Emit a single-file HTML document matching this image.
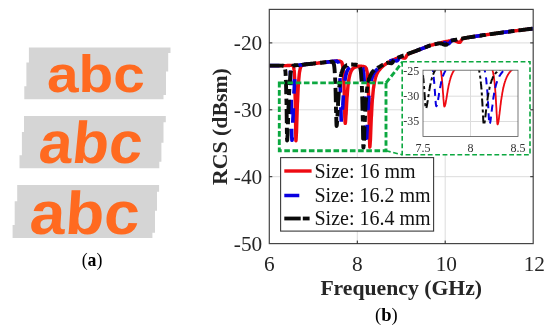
<!DOCTYPE html>
<html lang="en">
<head>
<meta charset="utf-8">
<title>Figure</title>
<style>
html,body{margin:0;padding:0;background:#fff;}
body{width:550px;height:333px;overflow:hidden;}
svg{display:block;}
</style>
</head>
<body>
<svg width="550" height="333" viewBox="0 0 550 333">
<rect width="550" height="333" fill="#ffffff"/>
<g id="panel-a">
<polygon points="28.9,47.4 170.5,47.4 170.5,53.0 168.2,53.0 168.2,71.5 166.0,71.5 166.0,95.0 163.5,95.0 163.5,99.3 24.3,99.3 24.3,86.2 26.4,86.2 26.4,62.6 28.9,62.6" fill="#d5d5d5"/>
<polygon points="24.0,116.0 165.8,116.0 165.8,122.2 163.5,122.2 163.5,142.8 161.4,142.8 161.4,161.8 159.3,161.8 159.3,168.3 19.5,168.3 19.5,155.3 21.9,155.3 21.9,131.9 24.0,131.9" fill="#d5d5d5"/>
<polygon points="17.2,185.1 159.1,185.1 159.1,191.8 157.0,191.8 157.0,210.7 155.0,210.7 155.0,232.8 152.4,232.8 152.4,238.0 12.6,238.0 12.6,225.0 14.7,225.0 14.7,201.3 17.2,201.3" fill="#d5d5d5"/>
<g font-family="'Liberation Sans', sans-serif" font-weight="bold" fill="#ff6a20" text-anchor="middle">
<text x="95.9" y="91.5" font-size="52.3" textLength="97.8" lengthAdjust="spacingAndGlyphs">abc</text>
<text x="89.2" y="163.5" font-size="59" textLength="103.3" lengthAdjust="spacingAndGlyphs" transform="translate(89.2 163.5) skewX(-5.6) translate(-89.2 -163.5)">abc</text>
<text x="83.6" y="234.2" font-size="60.5" textLength="109.6" lengthAdjust="spacingAndGlyphs" transform="translate(83.6 234.2) skewX(-3.8) translate(-83.6 -234.2)">abc</text>
</g>
<text x="92" y="265.5" font-family="'Liberation Serif', serif" font-size="17.8" text-anchor="middle" fill="#000">(<tspan font-weight="bold">a</tspan>)</text>
</g>
<g id="panel-b">
<g stroke="#dcdcdc" stroke-width="1" fill="none"><line x1="357.3" y1="9.4" x2="357.3" y2="243.6"/><line x1="445.2" y1="9.4" x2="445.2" y2="243.6"/><line x1="269.3" y1="42.9" x2="533.2" y2="42.9"/><line x1="269.3" y1="109.8" x2="533.2" y2="109.8"/><line x1="269.3" y1="176.7" x2="533.2" y2="176.7"/></g>
<clipPath id="cpm"><rect x="269.3" y="9.4" width="263.9" height="234.2"/></clipPath>
<g clip-path="url(#cpm)" fill="none" stroke-linejoin="round">
<path d="M269.3,65.6 L269.4,65.6 L269.5,65.6 L269.6,65.6 L269.7,65.6 L269.8,65.6 L270.0,65.6 L270.1,65.6 L270.2,65.6 L270.3,65.6 L270.4,65.6 L270.5,65.6 L270.6,65.6 L270.7,65.6 L270.8,65.6 L270.9,65.6 L271.1,65.6 L271.2,65.6 L271.3,65.6 L271.4,65.6 L271.5,65.6 L271.6,65.6 L271.7,65.6 L271.8,65.6 L271.9,65.6 L272.0,65.6 L272.2,65.6 L272.3,65.6 L272.4,65.6 L272.5,65.6 L272.6,65.6 L272.7,65.6 L272.8,65.6 L272.9,65.6 L273.0,65.6 L273.1,65.6 L273.3,65.6 L273.4,65.6 L273.5,65.6 L273.6,65.6 L273.7,65.6 L273.8,65.6 L273.9,65.6 L274.0,65.6 L274.1,65.6 L274.2,65.6 L274.4,65.6 L274.5,65.6 L274.6,65.6 L274.7,65.6 L274.8,65.6 L274.9,65.6 L275.0,65.6 L275.1,65.6 L275.2,65.6 L275.3,65.6 L275.5,65.6 L275.6,65.6 L275.7,65.6 L275.8,65.6 L275.9,65.6 L276.0,65.6 L276.1,65.6 L276.2,65.6 L276.3,65.6 L276.4,65.6 L276.6,65.6 L276.7,65.6 L276.8,65.6 L276.9,65.6 L277.0,65.6 L277.1,65.6 L277.2,65.6 L277.3,65.6 L277.4,65.6 L277.5,65.6 L277.7,65.6 L277.8,65.6 L277.9,65.6 L278.0,65.6 L278.1,65.6 L278.2,65.6 L278.3,65.6 L278.4,65.6 L278.5,65.6 L278.6,65.6 L278.8,65.6 L278.9,65.6 L279.0,65.6 L279.1,65.6 L279.2,65.6 L279.3,65.6 L279.4,65.6 L279.5,65.6 L279.6,65.6 L279.7,65.6 L279.9,65.6 L280.0,65.6 L280.1,65.6 L280.2,65.6 L280.3,65.6 L280.4,65.6 L280.5,65.6 L280.6,65.6 L280.7,65.6 L280.8,65.6 L281.0,65.6 L281.1,65.6 L281.2,65.6 L281.3,65.6 L281.4,65.6 L281.5,65.6 L281.6,65.6 L281.7,65.6 L281.8,65.6 L281.9,65.6 L282.1,65.6 L282.2,65.6 L282.3,65.6 L282.4,65.6 L282.5,65.6 L282.6,65.6 L282.7,65.6 L282.8,65.6 L282.9,65.6 L283.0,65.6 L283.2,65.6 L283.3,65.6 L283.4,65.6 L283.5,65.6 L283.6,65.6 L283.7,65.6 L283.8,65.6 L283.9,65.6 L284.0,65.6 L284.1,65.6 L284.3,65.6 L284.4,65.6 L284.5,65.6 L284.6,65.6 L284.7,65.6 L284.8,65.6 L284.9,65.6 L285.0,65.6 L285.1,65.6 L285.2,65.6 L285.4,65.6 L285.5,65.6 L285.6,65.6 L285.7,65.6 L285.8,65.6 L285.9,65.6 L286.0,65.6 L286.1,65.6 L286.2,65.6 L286.3,65.6 L286.5,65.6 L286.6,65.6 L286.7,65.6 L286.8,65.6 L286.9,65.6 L287.0,65.5 L287.1,65.5 L287.2,65.5 L287.3,65.5 L287.4,65.5 L287.6,65.5 L287.7,65.5 L287.8,65.5 L287.9,65.5 L288.0,65.5 L288.1,65.5 L288.2,65.5 L288.3,65.5 L288.4,65.5 L288.5,65.5 L288.7,65.5 L288.8,65.5 L288.9,65.5 L289.0,65.5 L289.1,65.5 L289.2,65.5 L289.3,65.4 L289.4,65.4 L289.5,65.4 L289.6,65.4 L289.8,65.4 L289.9,65.4 L290.0,65.4 L290.1,65.4 L290.2,65.4 L290.3,65.4 L290.4,65.4 L290.5,65.4 L290.6,65.4 L290.7,65.4 L290.9,65.4 L291.0,65.4 L291.1,65.4 L291.2,65.4 L291.3,65.4 L291.4,65.4 L291.5,65.4 L291.6,65.4 L291.7,65.4 L291.8,65.4 L292.0,65.4 L292.1,65.4 L292.2,65.4 L292.3,65.4 L292.4,65.4 L292.5,65.4 L292.6,65.5 L292.7,65.5 L292.8,65.6 L292.9,65.7 L293.1,65.8 L293.2,66.0 L293.3,66.2 L293.4,66.4 L293.5,66.7 L293.6,67.1 L293.7,67.6 L293.8,68.1 L293.9,68.9 L294.0,69.7 L294.2,70.8 L294.3,72.1 L294.4,73.6 L294.5,75.5 L294.6,77.7 L294.7,80.4 L294.8,83.5 L294.9,87.2 L295.0,91.5 L295.1,96.5 L295.3,102.3 L295.4,109.0 L295.5,116.4 L295.6,124.4 L295.7,132.2 L295.8,138.4 L295.9,140.8 L296.0,140.4 L296.1,139.2 L296.2,137.3 L296.3,134.9 L296.5,132.1 L296.6,129.0 L296.7,125.8 L296.8,122.5 L296.9,119.1 L297.0,115.9 L297.1,112.6 L297.2,109.5 L297.3,106.6 L297.4,103.7 L297.6,101.0 L297.7,98.4 L297.8,95.9 L297.9,93.6 L298.0,91.4 L298.1,89.4 L298.2,87.4 L298.3,85.6 L298.4,83.9 L298.5,82.3 L298.7,80.8 L298.8,79.4 L298.9,78.1 L299.0,77.0 L299.1,75.9 L299.2,74.8 L299.3,73.9 L299.4,73.1 L299.5,72.3 L299.6,71.5 L299.8,70.9 L299.9,70.3 L300.0,69.7 L300.1,69.2 L300.2,68.8 L300.3,68.4 L300.4,68.0 L300.5,67.6 L300.6,67.3 L300.7,67.0 L300.9,66.8 L301.0,66.6 L301.1,66.4 L301.2,66.2 L301.3,66.0 L301.4,65.9 L301.5,65.7 L301.6,65.6 L301.7,65.5 L301.8,65.4 L302.0,65.3 L302.1,65.2 L302.2,65.2 L302.3,65.1 L302.4,65.0 L302.5,65.0 L302.6,64.9 L302.7,64.9 L302.8,64.9 L302.9,64.8 L303.1,64.8 L303.2,64.8 L303.3,64.7 L303.4,64.7 L303.5,64.7 L303.6,64.7 L303.7,64.6 L303.8,64.6 L303.9,64.6 L304.0,64.6 L304.2,64.6 L304.3,64.6 L304.4,64.5 L304.5,64.5 L304.6,64.5 L304.7,64.5 L304.8,64.5 L304.9,64.5 L305.0,64.5 L305.1,64.4 L305.3,64.4 L305.4,64.4 L305.5,64.4 L305.6,64.4 L305.7,64.4 L305.8,64.4 L305.9,64.4 L306.0,64.3 L306.1,64.3 L306.2,64.3 L306.4,64.3 L306.5,64.3 L306.6,64.3 L306.7,64.3 L306.8,64.3 L306.9,64.2 L307.0,64.2 L307.1,64.2 L307.2,64.2 L307.3,64.2 L307.5,64.2 L307.6,64.2 L307.7,64.2 L307.8,64.2 L307.9,64.1 L308.0,64.1 L308.1,64.1 L308.2,64.1 L308.3,64.1 L308.4,64.1 L308.6,64.1 L308.7,64.1 L308.8,64.0 L308.9,64.0 L309.0,64.0 L309.1,64.0 L309.2,64.0 L309.3,64.0 L309.4,64.0 L309.5,64.0 L309.7,63.9 L309.8,63.9 L309.9,63.9 L310.0,63.9 L310.1,63.9 L310.2,63.9 L310.3,63.9 L310.4,63.9 L310.5,63.9 L310.6,63.8 L310.8,63.8 L310.9,63.8 L311.0,63.8 L311.1,63.8 L311.2,63.8 L311.3,63.8 L311.4,63.8 L311.5,63.7 L311.6,63.7 L311.7,63.7 L311.9,63.7 L312.0,63.7 L312.1,63.7 L312.2,63.7 L312.3,63.7 L312.4,63.7 L312.5,63.6 L312.6,63.6 L312.7,63.6 L312.8,63.6 L313.0,63.6 L313.1,63.6 L313.2,63.6 L313.3,63.6 L313.4,63.5 L313.5,63.5 L313.6,63.5 L313.7,63.5 L313.8,63.5 L313.9,63.5 L314.1,63.5 L314.2,63.5 L314.3,63.5 L314.4,63.4 L314.5,63.4 L314.6,63.4 L314.7,63.4 L314.8,63.4 L314.9,63.4 L315.0,63.4 L315.2,63.4 L315.3,63.3 L315.4,63.3 L315.5,63.3 L315.6,63.3 L315.7,63.3 L315.8,63.3 L315.9,63.3 L316.0,63.3 L316.1,63.3 L316.3,63.2 L316.4,63.2 L316.5,63.2 L316.6,63.2 L316.7,63.2 L316.8,63.2 L316.9,63.2 L317.0,63.2 L317.1,63.1 L317.2,63.1 L317.4,63.1 L317.5,63.1 L317.6,63.1 L317.7,63.1 L317.8,63.1 L317.9,63.1 L318.0,63.1 L318.1,63.0 L318.2,63.0 L318.3,63.0 L318.5,63.0 L318.6,63.0 L318.7,63.0 L318.8,63.0 L318.9,63.0 L319.0,62.9 L319.1,62.9 L319.2,62.9 L319.3,62.9 L319.4,62.9 L319.6,62.9 L319.7,62.9 L319.8,62.9 L319.9,62.9 L320.0,62.8 L320.1,62.8 L320.2,62.8 L320.3,62.8 L320.4,62.8 L320.5,62.8 L320.7,62.8 L320.8,62.8 L320.9,62.7 L321.0,62.7 L321.1,62.7 L321.2,62.7 L321.3,62.7 L321.4,62.7 L321.5,62.7 L321.6,62.7 L321.8,62.7 L321.9,62.6 L322.0,62.6 L322.1,62.6 L322.2,62.6 L322.3,62.6 L322.4,62.6 L322.5,62.6 L322.6,62.6 L322.7,62.5 L322.8,62.5 L323.0,62.5 L323.1,62.5 L323.2,62.5 L323.3,62.5 L323.4,62.5 L323.5,62.5 L323.6,62.5 L323.7,62.4 L323.8,62.4 L323.9,62.4 L324.1,62.4 L324.2,62.4 L324.3,62.4 L324.4,62.4 L324.5,62.4 L324.6,62.3 L324.7,62.3 L324.8,62.3 L324.9,62.3 L325.0,62.3 L325.2,62.3 L325.3,62.3 L325.4,62.3 L325.5,62.2 L325.6,62.2 L325.7,62.2 L325.8,62.2 L325.9,62.2 L326.0,62.2 L326.1,62.2 L326.3,62.2 L326.4,62.2 L326.5,62.1 L326.6,62.1 L326.7,62.1 L326.8,62.1 L326.9,62.1 L327.0,62.1 L327.1,62.1 L327.2,62.1 L327.4,62.0 L327.5,62.0 L327.6,62.0 L327.7,62.0 L327.8,62.0 L327.9,62.0 L328.0,62.0 L328.1,62.0 L328.2,62.0 L328.3,61.9 L328.5,61.9 L328.6,61.9 L328.7,61.9 L328.8,61.9 L328.9,61.9 L329.0,61.9 L329.1,61.9 L329.2,61.8 L329.3,61.8 L329.4,61.8 L329.6,61.8 L329.7,61.8 L329.8,61.8 L329.9,61.8 L330.0,61.8 L330.1,61.8 L330.2,61.7 L330.3,61.7 L330.4,61.7 L330.5,61.7 L330.7,61.7 L330.8,61.7 L330.9,61.7 L331.0,61.7 L331.1,61.6 L331.2,61.6 L331.3,61.6 L331.4,61.6 L331.5,61.6 L331.6,61.6 L331.8,61.6 L331.9,61.6 L332.0,61.6 L332.1,61.5 L332.2,61.5 L332.3,61.5 L332.4,61.5 L332.5,61.5 L332.6,61.5 L332.7,61.5 L332.9,61.5 L333.0,61.4 L333.1,61.4 L333.2,61.4 L333.3,61.4 L333.4,61.4 L333.5,61.4 L333.6,61.4 L333.7,61.4 L333.8,61.4 L334.0,61.3 L334.1,61.3 L334.2,61.3 L334.3,61.3 L334.4,61.3 L334.5,61.3 L334.6,61.3 L334.7,61.3 L334.8,61.2 L334.9,61.2 L335.1,61.2 L335.2,61.2 L335.3,61.2 L335.4,61.2 L335.5,61.2 L335.6,61.2 L335.7,61.2 L335.8,61.1 L335.9,61.1 L336.0,61.1 L336.2,61.1 L336.3,61.1 L336.4,61.1 L336.5,61.1 L336.6,61.1 L336.7,61.0 L336.8,61.0 L336.9,61.0 L337.0,61.0 L337.1,61.0 L337.3,61.0 L337.4,61.0 L337.5,61.0 L337.6,61.0 L337.7,61.0 L337.8,61.0 L337.9,61.0 L338.0,61.0 L338.1,61.0 L338.2,61.1 L338.4,61.1 L338.5,61.1 L338.6,61.1 L338.7,61.1 L338.8,61.1 L338.9,61.1 L339.0,61.1 L339.1,61.2 L339.2,61.2 L339.3,61.2 L339.5,61.2 L339.6,61.2 L339.7,61.2 L339.8,61.3 L339.9,61.3 L340.0,61.3 L340.1,61.3 L340.2,61.3 L340.3,61.4 L340.4,61.4 L340.6,61.4 L340.7,61.5 L340.8,61.5 L340.9,61.6 L341.0,61.6 L341.1,61.7 L341.2,61.8 L341.3,61.9 L341.4,62.0 L341.5,62.1 L341.7,62.3 L341.8,62.5 L341.9,62.7 L342.0,62.9 L342.1,63.2 L342.2,63.6 L342.3,64.0 L342.4,64.4 L342.5,65.0 L342.6,65.6 L342.8,66.3 L342.9,67.1 L343.0,68.1 L343.1,69.1 L343.2,70.4 L343.3,71.8 L343.4,73.4 L343.5,75.2 L343.6,77.2 L343.7,79.5 L343.9,82.1 L344.0,84.9 L344.1,88.1 L344.2,91.6 L344.3,95.4 L344.4,99.4 L344.5,103.8 L344.6,108.2 L344.7,112.7 L344.8,116.8 L345.0,120.2 L345.1,122.6 L345.2,123.4 L345.3,123.2 L345.4,122.7 L345.5,121.8 L345.6,120.7 L345.7,119.3 L345.8,117.7 L345.9,115.9 L346.1,114.1 L346.2,112.1 L346.3,110.2 L346.4,108.2 L346.5,106.3 L346.6,104.4 L346.7,102.6 L346.8,100.8 L346.9,99.1 L347.0,97.5 L347.2,95.9 L347.3,94.4 L347.4,93.0 L347.5,91.6 L347.6,90.3 L347.7,89.1 L347.8,88.0 L347.9,86.9 L348.0,85.8 L348.1,84.9 L348.3,83.9 L348.4,83.0 L348.5,82.2 L348.6,81.4 L348.7,80.7 L348.8,80.0 L348.9,79.3 L349.0,78.7 L349.1,78.1 L349.2,77.5 L349.3,77.0 L349.5,76.5 L349.6,76.0 L349.7,75.5 L349.8,75.1 L349.9,74.7 L350.0,74.3 L350.1,73.9 L350.2,73.5 L350.3,73.2 L350.4,72.9 L350.6,72.6 L350.7,72.3 L350.8,72.0 L350.9,71.7 L351.0,71.5 L351.1,71.2 L351.2,71.0 L351.3,70.8 L351.4,70.6 L351.5,70.4 L351.7,70.2 L351.8,70.0 L351.9,69.8 L352.0,69.7 L352.1,69.5 L352.2,69.3 L352.3,69.2 L352.4,69.1 L352.5,68.9 L352.6,68.8 L352.8,68.7 L352.9,68.6 L353.0,68.5 L353.1,68.3 L353.2,68.2 L353.3,68.1 L353.4,68.0 L353.5,68.0 L353.6,67.9 L353.7,67.8 L353.9,67.7 L354.0,67.6 L354.1,67.6 L354.2,67.5 L354.3,67.4 L354.4,67.4 L354.5,67.3 L354.6,67.2 L354.7,67.2 L354.8,67.1 L355.0,67.1 L355.1,67.0 L355.2,67.0 L355.3,66.9 L355.4,66.9 L355.5,66.9 L355.6,66.8 L355.7,66.8 L355.8,66.7 L355.9,66.7 L356.1,66.7 L356.2,66.7 L356.3,66.6 L356.4,66.6 L356.5,66.6 L356.6,66.6 L356.7,66.5 L356.8,66.5 L356.9,66.5 L357.0,66.5 L357.2,66.5 L357.3,66.4 L357.4,66.4 L357.5,66.4 L357.6,66.4 L357.7,66.4 L357.8,66.4 L357.9,66.4 L358.0,66.3 L358.1,66.3 L358.3,66.3 L358.4,66.3 L358.5,66.3 L358.6,66.3 L358.7,66.3 L358.8,66.3 L358.9,66.3 L359.0,66.3 L359.1,66.3 L359.2,66.3 L359.4,66.3 L359.5,66.3 L359.6,66.3 L359.7,66.3 L359.8,66.3 L359.9,66.3 L360.0,66.3 L360.1,66.3 L360.2,66.3 L360.3,66.3 L360.5,66.3 L360.6,66.3 L360.7,66.3 L360.8,66.3 L360.9,66.3 L361.0,66.3 L361.1,66.3 L361.2,66.3 L361.3,66.3 L361.4,66.3 L361.6,66.3 L361.7,66.3 L361.8,66.4 L361.9,66.4 L362.0,66.4 L362.1,66.4 L362.2,66.4 L362.3,66.4 L362.4,66.4 L362.5,66.4 L362.7,66.4 L362.8,66.4 L362.9,66.5 L363.0,66.5 L363.1,66.5 L363.2,66.5 L363.3,66.5 L363.4,66.5 L363.5,66.5 L363.6,66.5 L363.8,66.6 L363.9,66.6 L364.0,66.6 L364.1,66.6 L364.2,66.6 L364.3,66.7 L364.4,66.7 L364.5,66.7 L364.6,66.8 L364.7,66.8 L364.9,66.9 L365.0,66.9 L365.1,67.0 L365.2,67.0 L365.3,67.1 L365.4,67.2 L365.5,67.3 L365.6,67.4 L365.7,67.6 L365.8,67.7 L366.0,67.9 L366.1,68.1 L366.2,68.3 L366.3,68.6 L366.4,68.9 L366.5,69.2 L366.6,69.6 L366.7,70.1 L366.8,70.6 L366.9,71.2 L367.1,71.8 L367.2,72.6 L367.3,73.5 L367.4,74.4 L367.5,75.5 L367.6,76.8 L367.7,78.2 L367.8,79.8 L367.9,81.5 L368.0,83.5 L368.2,85.7 L368.3,88.2 L368.4,90.9 L368.5,93.9 L368.6,97.3 L368.7,101.1 L368.8,105.2 L368.9,109.7 L369.0,114.7 L369.1,120.0 L369.3,125.7 L369.4,131.6 L369.5,137.3 L369.6,142.2 L369.7,145.7 L369.8,147.0 L369.9,146.8 L370.0,145.9 L370.1,144.6 L370.2,142.8 L370.4,140.7 L370.5,138.4 L370.6,135.8 L370.7,133.2 L370.8,130.5 L370.9,127.8 L371.0,125.2 L371.1,122.6 L371.2,120.1 L371.3,117.7 L371.5,115.4 L371.6,113.2 L371.7,111.1 L371.8,109.1 L371.9,107.2 L372.0,105.4 L372.1,103.7 L372.2,102.1 L372.3,100.6 L372.4,99.1 L372.6,97.7 L372.7,96.4 L372.8,95.2 L372.9,94.0 L373.0,92.9 L373.1,91.8 L373.2,90.8 L373.3,89.8 L373.4,88.9 L373.5,88.0 L373.7,87.2 L373.8,86.4 L373.9,85.6 L374.0,84.9 L374.1,84.2 L374.2,83.6 L374.3,83.0 L374.4,82.4 L374.5,81.8 L374.6,81.3 L374.8,80.7 L374.9,80.2 L375.0,79.8 L375.1,79.3 L375.2,78.9 L375.3,78.5 L375.4,78.0 L375.5,77.7 L375.6,77.3 L375.7,76.9 L375.8,76.6 L376.0,76.3 L376.1,75.9 L376.2,75.6 L376.3,75.3 L376.4,75.0 L376.5,74.8 L376.6,74.5 L376.7,74.3 L376.8,74.0 L376.9,73.8 L377.1,73.5 L377.2,73.3 L377.3,73.1 L377.4,72.9 L377.5,72.7 L377.6,72.5 L377.7,72.3 L377.8,72.1 L377.9,71.9 L378.0,71.7 L378.2,71.6 L378.3,71.4 L378.4,71.2 L378.5,71.1 L378.6,70.9 L378.7,70.8 L378.8,70.6 L378.9,70.5 L379.0,70.4 L379.1,70.2 L379.3,70.1 L379.4,69.9 L379.5,69.8 L379.6,69.7 L379.7,69.5 L379.8,69.4 L379.9,69.2 L380.0,69.1 L380.1,69.0 L380.2,68.8 L380.4,68.7 L380.5,68.6 L380.6,68.4 L380.7,68.3 L380.8,68.2 L380.9,68.1 L381.0,68.0 L381.1,67.9 L381.2,67.7 L381.3,67.6 L381.5,67.5 L381.6,67.4 L381.7,67.3 L381.8,67.2 L381.9,67.1 L382.0,67.0 L382.1,66.9 L382.2,66.8 L382.3,66.7 L382.4,66.6 L382.6,66.5 L382.7,66.4 L382.8,66.3 L382.9,66.2 L383.0,66.1 L383.1,66.0 L383.2,65.9 L383.3,65.8 L383.4,65.7 L383.5,65.7 L383.7,65.6 L384.1,65.2 L384.5,64.9 L385.0,64.6 L385.4,64.3 L385.9,64.0 L386.3,63.7 L386.7,63.4 L387.2,63.1 L387.6,62.8 L388.1,62.5 L388.5,62.3 L388.9,62.0 L389.4,61.8 L389.8,61.5 L390.3,61.2 L390.7,61.0 L391.1,60.8 L391.6,60.6 L392.0,60.4 L392.5,60.2 L392.9,60.0 L393.3,59.8 L393.8,59.6 L394.2,59.4 L394.7,59.3 L395.1,59.1 L395.5,58.9 L396.0,58.7 L396.4,58.5 L396.9,58.3 L397.3,58.2 L397.7,58.0 L398.2,57.8 L398.6,57.7 L399.1,57.6 L399.5,57.5 L399.9,57.4 L400.4,57.3 L400.8,57.3 L401.2,57.4 L401.7,57.5 L402.1,57.6 L402.6,57.7 L403.0,57.9 L403.4,58.0 L403.9,58.1 L404.3,58.2 L404.8,58.1 L405.2,58.0 L405.6,57.6 L406.1,56.8 L406.5,56.0 L407.0,55.2 L407.4,54.6 L407.8,54.2 L408.3,53.9 L408.7,53.7 L409.2,53.5 L409.6,53.4 L410.0,53.2 L410.5,53.0 L410.9,52.9 L411.4,52.7 L411.8,52.5 L412.2,52.4 L412.7,52.2 L413.1,52.0 L413.6,51.9 L414.0,51.7 L414.4,51.6 L414.9,51.4 L415.3,51.2 L415.8,51.1 L416.2,50.9 L416.6,50.7 L417.1,50.5 L417.5,50.4 L418.0,50.2 L418.4,50.0 L418.8,49.9 L419.3,49.7 L419.7,49.5 L420.2,49.3 L420.6,49.2 L421.0,49.0 L421.5,48.8 L421.9,48.7 L422.4,48.5 L422.8,48.3 L423.2,48.1 L423.7,48.0 L424.1,47.8 L424.6,47.6 L425.0,47.5 L425.4,47.3 L425.9,47.1 L426.3,46.9 L426.8,46.8 L427.2,46.6 L427.6,46.4 L428.1,46.3 L428.5,46.1 L429.0,45.9 L429.4,45.8 L429.8,45.6 L430.3,45.4 L430.7,45.3 L431.2,45.2 L431.6,45.1 L432.0,45.0 L432.5,44.9 L432.9,44.8 L433.4,44.6 L433.8,44.5 L434.2,44.4 L434.7,44.3 L435.1,44.2 L435.6,44.1 L436.0,44.0 L436.4,43.9 L436.9,43.8 L437.3,43.7 L437.8,43.5 L438.2,43.4 L438.6,43.3 L439.1,43.2 L439.5,43.1 L440.0,43.0 L440.4,42.9 L440.8,42.8 L441.3,42.7 L441.7,42.6 L442.2,42.4 L442.6,42.3 L443.0,42.2 L443.5,42.1 L443.9,42.0 L444.4,41.9 L444.8,41.8 L445.2,41.7 L445.7,41.6 L446.1,41.5 L446.6,41.4 L447.0,41.4 L447.4,41.3 L447.9,41.2 L448.3,41.1 L448.8,41.0 L449.2,41.0 L449.6,40.9 L450.1,40.8 L450.5,40.7 L451.0,40.7 L451.4,40.6 L451.8,40.6 L452.3,40.5 L452.7,40.5 L453.2,40.5 L453.6,40.5 L454.0,40.6 L454.5,40.7 L454.9,40.8 L455.3,40.9 L455.8,41.1 L456.2,41.3 L456.7,41.5 L457.1,41.7 L457.5,42.0 L458.0,42.1 L458.4,42.3 L458.9,42.4 L459.3,42.4 L459.7,42.3 L460.2,42.1 L460.6,41.5 L461.1,40.8 L461.5,40.0 L461.9,39.4 L462.4,38.9 L462.8,38.6 L463.3,38.4 L463.7,38.3 L464.1,38.2 L464.6,38.1 L465.0,38.0 L465.5,37.9 L465.9,37.9 L466.3,37.8 L466.8,37.7 L467.2,37.6 L467.7,37.6 L468.1,37.5 L468.5,37.4 L469.0,37.4 L469.4,37.3 L469.9,37.2 L470.3,37.1 L470.7,37.1 L471.2,37.0 L471.6,36.9 L472.1,36.9 L472.5,36.8 L472.9,36.7 L473.4,36.7 L473.8,36.6 L474.3,36.5 L474.7,36.5 L475.1,36.4 L475.6,36.3 L476.0,36.3 L476.5,36.2 L476.9,36.1 L477.3,36.1 L477.8,36.0 L478.2,35.9 L478.7,35.9 L479.1,35.8 L479.5,35.7 L480.0,35.7 L480.4,35.6 L480.9,35.5 L481.3,35.5 L481.7,35.4 L482.2,35.3 L482.6,35.3 L483.1,35.2 L483.5,35.1 L483.9,35.1 L484.4,35.0 L484.8,34.9 L485.3,34.9 L485.7,34.8 L486.1,34.7 L486.6,34.7 L487.0,34.6 L487.5,34.6 L487.9,34.5 L488.3,34.4 L488.8,34.4 L489.2,34.3 L489.7,34.3 L490.1,34.2 L490.5,34.1 L491.0,34.1 L491.4,34.0 L491.9,34.0 L492.3,33.9 L492.7,33.8 L493.2,33.8 L493.6,33.7 L494.1,33.7 L494.5,33.6 L494.9,33.5 L495.4,33.5 L495.8,33.4 L496.3,33.4 L496.7,33.3 L497.1,33.2 L497.6,33.2 L498.0,33.1 L498.5,33.0 L498.9,33.0 L499.3,32.9 L499.8,32.9 L500.2,32.8 L500.7,32.7 L501.1,32.7 L501.5,32.6 L502.0,32.6 L502.4,32.5 L502.9,32.4 L503.3,32.4 L503.7,32.3 L504.2,32.3 L504.6,32.2 L505.1,32.1 L505.5,32.1 L505.9,32.0 L506.4,32.0 L506.8,31.9 L507.2,31.8 L507.7,31.8 L508.1,31.7 L508.6,31.7 L509.0,31.6 L509.4,31.6 L509.9,31.5 L510.3,31.5 L510.8,31.4 L511.2,31.3 L511.6,31.3 L512.1,31.2 L512.5,31.2 L513.0,31.1 L513.4,31.1 L513.8,31.0 L514.3,30.9 L514.7,30.9 L515.2,30.8 L515.6,30.8 L516.0,30.7 L516.5,30.7 L516.9,30.6 L517.4,30.6 L517.8,30.5 L518.2,30.4 L518.7,30.4 L519.1,30.3 L519.6,30.3 L520.0,30.2 L520.4,30.2 L520.9,30.1 L521.3,30.1 L521.8,30.0 L522.2,29.9 L522.6,29.9 L523.1,29.8 L523.5,29.8 L524.0,29.7 L524.4,29.7 L524.8,29.6 L525.3,29.6 L525.7,29.5 L526.2,29.4 L526.6,29.4 L527.0,29.3 L527.5,29.3 L527.9,29.2 L528.4,29.2 L528.8,29.1 L529.2,29.0 L529.7,29.0 L530.1,28.9 L530.6,28.9 L531.0,28.8 L531.4,28.8 L531.9,28.7 L532.3,28.7 L532.8,28.6 L533.2,28.5" stroke="#ee0a12" stroke-width="3.4"/>
<path d="M269.3,65.6 L269.4,65.6 L269.5,65.6 L269.6,65.6 L269.7,65.6 L269.8,65.6 L270.0,65.6 L270.1,65.6 L270.2,65.6 L270.3,65.6 L270.4,65.6 L270.5,65.6 L270.6,65.6 L270.7,65.6 L270.8,65.6 L270.9,65.6 L271.1,65.6 L271.2,65.6 L271.3,65.6 L271.4,65.6 L271.5,65.6 L271.6,65.6 L271.7,65.6 L271.8,65.6 L271.9,65.6 L272.0,65.6 L272.2,65.6 L272.3,65.6 L272.4,65.6 L272.5,65.6 L272.6,65.6 L272.7,65.6 L272.8,65.6 L272.9,65.6 L273.0,65.6 L273.1,65.6 L273.3,65.6 L273.4,65.6 L273.5,65.6 L273.6,65.6 L273.7,65.6 L273.8,65.6 L273.9,65.6 L274.0,65.6 L274.1,65.6 L274.2,65.6 L274.4,65.6 L274.5,65.6 L274.6,65.6 L274.7,65.6 L274.8,65.6 L274.9,65.6 L275.0,65.6 L275.1,65.6 L275.2,65.6 L275.3,65.6 L275.5,65.6 L275.6,65.6 L275.7,65.6 L275.8,65.6 L275.9,65.6 L276.0,65.6 L276.1,65.6 L276.2,65.6 L276.3,65.6 L276.4,65.6 L276.6,65.6 L276.7,65.6 L276.8,65.6 L276.9,65.6 L277.0,65.6 L277.1,65.6 L277.2,65.6 L277.3,65.6 L277.4,65.6 L277.5,65.6 L277.7,65.6 L277.8,65.6 L277.9,65.6 L278.0,65.6 L278.1,65.6 L278.2,65.6 L278.3,65.6 L278.4,65.6 L278.5,65.6 L278.6,65.6 L278.8,65.6 L278.9,65.6 L279.0,65.6 L279.1,65.6 L279.2,65.6 L279.3,65.6 L279.4,65.6 L279.5,65.6 L279.6,65.6 L279.7,65.6 L279.9,65.6 L280.0,65.6 L280.1,65.6 L280.2,65.6 L280.3,65.6 L280.4,65.6 L280.5,65.6 L280.6,65.6 L280.7,65.6 L280.8,65.6 L281.0,65.6 L281.1,65.6 L281.2,65.6 L281.3,65.6 L281.4,65.6 L281.5,65.6 L281.6,65.6 L281.7,65.6 L281.8,65.6 L281.9,65.6 L282.1,65.6 L282.2,65.6 L282.3,65.6 L282.4,65.6 L282.5,65.6 L282.6,65.6 L282.7,65.6 L282.8,65.6 L282.9,65.6 L283.0,65.6 L283.2,65.6 L283.3,65.6 L283.4,65.6 L283.5,65.6 L283.6,65.6 L283.7,65.6 L283.8,65.6 L283.9,65.6 L284.0,65.6 L284.1,65.6 L284.3,65.6 L284.4,65.6 L284.5,65.6 L284.6,65.6 L284.7,65.6 L284.8,65.6 L284.9,65.6 L285.0,65.6 L285.1,65.6 L285.2,65.6 L285.4,65.6 L285.5,65.6 L285.6,65.6 L285.7,65.6 L285.8,65.6 L285.9,65.6 L286.0,65.6 L286.1,65.6 L286.2,65.6 L286.3,65.6 L286.5,65.6 L286.6,65.6 L286.7,65.6 L286.8,65.6 L286.9,65.6 L287.0,65.5 L287.1,65.5 L287.2,65.5 L287.3,65.5 L287.4,65.5 L287.6,65.5 L287.7,65.5 L287.8,65.5 L287.9,65.5 L288.0,65.5 L288.1,65.5 L288.2,65.6 L288.3,65.6 L288.4,65.6 L288.5,65.6 L288.7,65.7 L288.8,65.7 L288.9,65.8 L289.0,65.9 L289.1,66.0 L289.2,66.1 L289.3,66.3 L289.4,66.6 L289.5,66.9 L289.6,67.3 L289.8,67.7 L289.9,68.3 L290.0,69.0 L290.1,69.9 L290.2,70.9 L290.3,72.2 L290.4,73.8 L290.5,75.6 L290.6,77.9 L290.7,80.5 L290.9,83.6 L291.0,87.3 L291.1,91.6 L291.2,96.6 L291.3,102.4 L291.4,109.0 L291.5,116.3 L291.6,124.2 L291.7,131.9 L291.8,137.9 L292.0,140.3 L292.1,139.9 L292.2,138.7 L292.3,136.9 L292.4,134.6 L292.5,131.8 L292.6,128.8 L292.7,125.6 L292.8,122.3 L292.9,119.0 L293.1,115.8 L293.2,112.6 L293.3,109.5 L293.4,106.6 L293.5,103.7 L293.6,101.0 L293.7,98.4 L293.8,96.0 L293.9,93.7 L294.0,91.5 L294.2,89.5 L294.3,87.5 L294.4,85.7 L294.5,84.0 L294.6,82.4 L294.7,80.9 L294.8,79.6 L294.9,78.3 L295.0,77.1 L295.1,76.0 L295.3,75.0 L295.4,74.1 L295.5,73.2 L295.6,72.4 L295.7,71.7 L295.8,71.0 L295.9,70.4 L296.0,69.9 L296.1,69.4 L296.2,68.9 L296.3,68.5 L296.5,68.2 L296.6,67.8 L296.7,67.5 L296.8,67.3 L296.9,67.0 L297.0,66.8 L297.1,66.6 L297.2,66.4 L297.3,66.3 L297.4,66.1 L297.6,66.0 L297.7,65.9 L297.8,65.8 L297.9,65.7 L298.0,65.6 L298.1,65.5 L298.2,65.5 L298.3,65.4 L298.4,65.4 L298.5,65.3 L298.7,65.3 L298.8,65.2 L298.9,65.2 L299.0,65.2 L299.1,65.2 L299.2,65.1 L299.3,65.1 L299.4,65.1 L299.5,65.1 L299.6,65.1 L299.8,65.0 L299.9,65.0 L300.0,65.0 L300.1,65.0 L300.2,65.0 L300.3,65.0 L300.4,65.0 L300.5,64.9 L300.6,64.9 L300.7,64.9 L300.9,64.9 L301.0,64.9 L301.1,64.9 L301.2,64.9 L301.3,64.9 L301.4,64.8 L301.5,64.8 L301.6,64.8 L301.7,64.8 L301.8,64.8 L302.0,64.8 L302.1,64.8 L302.2,64.8 L302.3,64.7 L302.4,64.7 L302.5,64.7 L302.6,64.7 L302.7,64.7 L302.8,64.7 L302.9,64.7 L303.1,64.7 L303.2,64.6 L303.3,64.6 L303.4,64.6 L303.5,64.6 L303.6,64.6 L303.7,64.6 L303.8,64.6 L303.9,64.6 L304.0,64.6 L304.2,64.5 L304.3,64.5 L304.4,64.5 L304.5,64.5 L304.6,64.5 L304.7,64.5 L304.8,64.5 L304.9,64.5 L305.0,64.4 L305.1,64.4 L305.3,64.4 L305.4,64.4 L305.5,64.4 L305.6,64.4 L305.7,64.4 L305.8,64.4 L305.9,64.4 L306.0,64.3 L306.1,64.3 L306.2,64.3 L306.4,64.3 L306.5,64.3 L306.6,64.3 L306.7,64.3 L306.8,64.3 L306.9,64.2 L307.0,64.2 L307.1,64.2 L307.2,64.2 L307.3,64.2 L307.5,64.2 L307.6,64.2 L307.7,64.2 L307.8,64.2 L307.9,64.1 L308.0,64.1 L308.1,64.1 L308.2,64.1 L308.3,64.1 L308.4,64.1 L308.6,64.1 L308.7,64.1 L308.8,64.0 L308.9,64.0 L309.0,64.0 L309.1,64.0 L309.2,64.0 L309.3,64.0 L309.4,64.0 L309.5,64.0 L309.7,63.9 L309.8,63.9 L309.9,63.9 L310.0,63.9 L310.1,63.9 L310.2,63.9 L310.3,63.9 L310.4,63.9 L310.5,63.9 L310.6,63.8 L310.8,63.8 L310.9,63.8 L311.0,63.8 L311.1,63.8 L311.2,63.8 L311.3,63.8 L311.4,63.8 L311.5,63.7 L311.6,63.7 L311.7,63.7 L311.9,63.7 L312.0,63.7 L312.1,63.7 L312.2,63.7 L312.3,63.7 L312.4,63.7 L312.5,63.6 L312.6,63.6 L312.7,63.6 L312.8,63.6 L313.0,63.6 L313.1,63.6 L313.2,63.6 L313.3,63.6 L313.4,63.5 L313.5,63.5 L313.6,63.5 L313.7,63.5 L313.8,63.5 L313.9,63.5 L314.1,63.5 L314.2,63.5 L314.3,63.5 L314.4,63.4 L314.5,63.4 L314.6,63.4 L314.7,63.4 L314.8,63.4 L314.9,63.4 L315.0,63.4 L315.2,63.4 L315.3,63.3 L315.4,63.3 L315.5,63.3 L315.6,63.3 L315.7,63.3 L315.8,63.3 L315.9,63.3 L316.0,63.3 L316.1,63.3 L316.3,63.2 L316.4,63.2 L316.5,63.2 L316.6,63.2 L316.7,63.2 L316.8,63.2 L316.9,63.2 L317.0,63.2 L317.1,63.1 L317.2,63.1 L317.4,63.1 L317.5,63.1 L317.6,63.1 L317.7,63.1 L317.8,63.1 L317.9,63.1 L318.0,63.1 L318.1,63.0 L318.2,63.0 L318.3,63.0 L318.5,63.0 L318.6,63.0 L318.7,63.0 L318.8,63.0 L318.9,63.0 L319.0,62.9 L319.1,62.9 L319.2,62.9 L319.3,62.9 L319.4,62.9 L319.6,62.9 L319.7,62.9 L319.8,62.9 L319.9,62.9 L320.0,62.8 L320.1,62.8 L320.2,62.8 L320.3,62.8 L320.4,62.8 L320.5,62.8 L320.7,62.8 L320.8,62.8 L320.9,62.7 L321.0,62.7 L321.1,62.7 L321.2,62.7 L321.3,62.7 L321.4,62.7 L321.5,62.7 L321.6,62.7 L321.8,62.7 L321.9,62.6 L322.0,62.6 L322.1,62.6 L322.2,62.6 L322.3,62.6 L322.4,62.6 L322.5,62.6 L322.6,62.6 L322.7,62.5 L322.8,62.5 L323.0,62.5 L323.1,62.5 L323.2,62.5 L323.3,62.5 L323.4,62.5 L323.5,62.5 L323.6,62.5 L323.7,62.4 L323.8,62.4 L323.9,62.4 L324.1,62.4 L324.2,62.4 L324.3,62.4 L324.4,62.4 L324.5,62.4 L324.6,62.3 L324.7,62.3 L324.8,62.3 L324.9,62.3 L325.0,62.3 L325.2,62.3 L325.3,62.3 L325.4,62.3 L325.5,62.2 L325.6,62.2 L325.7,62.2 L325.8,62.2 L325.9,62.2 L326.0,62.2 L326.1,62.2 L326.3,62.2 L326.4,62.2 L326.5,62.1 L326.6,62.1 L326.7,62.1 L326.8,62.1 L326.9,62.1 L327.0,62.1 L327.1,62.1 L327.2,62.1 L327.4,62.0 L327.5,62.0 L327.6,62.0 L327.7,62.0 L327.8,62.0 L327.9,62.0 L328.0,62.0 L328.1,62.0 L328.2,62.0 L328.3,61.9 L328.5,61.9 L328.6,61.9 L328.7,61.9 L328.8,61.9 L328.9,61.9 L329.0,61.9 L329.1,61.9 L329.2,61.8 L329.3,61.8 L329.4,61.8 L329.6,61.8 L329.7,61.8 L329.8,61.8 L329.9,61.8 L330.0,61.8 L330.1,61.8 L330.2,61.7 L330.3,61.7 L330.4,61.7 L330.5,61.7 L330.7,61.7 L330.8,61.7 L330.9,61.7 L331.0,61.7 L331.1,61.6 L331.2,61.6 L331.3,61.6 L331.4,61.6 L331.5,61.6 L331.6,61.6 L331.8,61.6 L331.9,61.6 L332.0,61.6 L332.1,61.5 L332.2,61.5 L332.3,61.5 L332.4,61.5 L332.5,61.5 L332.6,61.5 L332.7,61.5 L332.9,61.5 L333.0,61.4 L333.1,61.4 L333.2,61.4 L333.3,61.4 L333.4,61.4 L333.5,61.4 L333.6,61.4 L333.7,61.4 L333.8,61.4 L334.0,61.3 L334.1,61.3 L334.2,61.3 L334.3,61.3 L334.4,61.3 L334.5,61.3 L334.6,61.3 L334.7,61.3 L334.8,61.2 L334.9,61.2 L335.1,61.2 L335.2,61.2 L335.3,61.2 L335.4,61.2 L335.5,61.2 L335.6,61.2 L335.7,61.2 L335.8,61.2 L335.9,61.1 L336.0,61.1 L336.2,61.1 L336.3,61.1 L336.4,61.1 L336.5,61.1 L336.6,61.1 L336.7,61.1 L336.8,61.2 L336.9,61.2 L337.0,61.2 L337.1,61.2 L337.3,61.3 L337.4,61.3 L337.5,61.4 L337.6,61.5 L337.7,61.6 L337.8,61.7 L337.9,61.9 L338.0,62.0 L338.1,62.3 L338.2,62.5 L338.4,62.8 L338.5,63.1 L338.6,63.5 L338.7,64.0 L338.8,64.5 L338.9,65.1 L339.0,65.9 L339.1,66.7 L339.2,67.6 L339.3,68.7 L339.5,69.9 L339.6,71.3 L339.7,72.9 L339.8,74.8 L339.9,76.8 L340.0,79.1 L340.1,81.6 L340.2,84.5 L340.3,87.7 L340.4,91.1 L340.6,94.9 L340.7,99.0 L340.8,103.3 L340.9,107.8 L341.0,112.3 L341.1,116.4 L341.2,119.8 L341.3,122.1 L341.4,123.0 L341.5,122.8 L341.7,122.3 L341.8,121.4 L341.9,120.2 L342.0,118.8 L342.1,117.2 L342.2,115.5 L342.3,113.6 L342.4,111.7 L342.5,109.7 L342.6,107.8 L342.8,105.9 L342.9,104.0 L343.0,102.1 L343.1,100.3 L343.2,98.6 L343.3,97.0 L343.4,95.4 L343.5,93.9 L343.6,92.5 L343.7,91.1 L343.9,89.8 L344.0,88.6 L344.1,87.4 L344.2,86.3 L344.3,85.3 L344.4,84.3 L344.5,83.3 L344.6,82.5 L344.7,81.6 L344.8,80.8 L345.0,80.1 L345.1,79.4 L345.2,78.7 L345.3,78.0 L345.4,77.4 L345.5,76.9 L345.6,76.3 L345.7,75.8 L345.8,75.3 L345.9,74.8 L346.1,74.4 L346.2,74.0 L346.3,73.6 L346.4,73.2 L346.5,72.8 L346.6,72.5 L346.7,72.2 L346.8,71.9 L346.9,71.6 L347.0,71.3 L347.2,71.0 L347.3,70.8 L347.4,70.5 L347.5,70.3 L347.6,70.1 L347.7,69.9 L347.8,69.7 L347.9,69.5 L348.0,69.3 L348.1,69.1 L348.3,68.9 L348.4,68.8 L348.5,68.6 L348.6,68.5 L348.7,68.4 L348.8,68.2 L348.9,68.1 L349.0,68.0 L349.1,67.9 L349.2,67.7 L349.3,67.6 L349.5,67.5 L349.6,67.4 L349.7,67.3 L349.8,67.2 L349.9,67.2 L350.0,67.1 L350.1,67.0 L350.2,66.9 L350.3,66.8 L350.4,66.8 L350.6,66.7 L350.7,66.6 L350.8,66.6 L350.9,66.5 L351.0,66.5 L351.1,66.4 L351.2,66.4 L351.3,66.3 L351.4,66.3 L351.5,66.2 L351.7,66.2 L351.8,66.1 L351.9,66.1 L352.0,66.1 L352.1,66.0 L352.2,66.0 L352.3,65.9 L352.4,65.9 L352.5,65.9 L352.6,65.9 L352.8,65.8 L352.9,65.8 L353.0,65.8 L353.1,65.8 L353.2,65.7 L353.3,65.7 L353.4,65.7 L353.5,65.7 L353.6,65.6 L353.7,65.6 L353.9,65.6 L354.0,65.6 L354.1,65.6 L354.2,65.6 L354.3,65.6 L354.4,65.5 L354.5,65.5 L354.6,65.5 L354.7,65.5 L354.8,65.5 L355.0,65.5 L355.1,65.5 L355.2,65.5 L355.3,65.5 L355.4,65.5 L355.5,65.5 L355.6,65.5 L355.7,65.5 L355.8,65.5 L355.9,65.5 L356.1,65.5 L356.2,65.5 L356.3,65.5 L356.4,65.5 L356.5,65.5 L356.6,65.5 L356.7,65.5 L356.8,65.5 L356.9,65.5 L357.0,65.5 L357.2,65.5 L357.3,65.5 L357.4,65.5 L357.5,65.5 L357.6,65.5 L357.7,65.5 L357.8,65.5 L357.9,65.5 L358.0,65.5 L358.1,65.6 L358.3,65.6 L358.4,65.6 L358.5,65.6 L358.6,65.6 L358.7,65.6 L358.8,65.6 L358.9,65.6 L359.0,65.6 L359.1,65.6 L359.2,65.7 L359.4,65.7 L359.5,65.7 L359.6,65.7 L359.7,65.7 L359.8,65.7 L359.9,65.7 L360.0,65.8 L360.1,65.8 L360.2,65.8 L360.3,65.8 L360.5,65.8 L360.6,65.9 L360.7,65.9 L360.8,65.9 L360.9,66.0 L361.0,66.0 L361.1,66.0 L361.2,66.1 L361.3,66.2 L361.4,66.2 L361.6,66.3 L361.7,66.4 L361.8,66.5 L361.9,66.6 L362.0,66.7 L362.1,66.9 L362.2,67.1 L362.3,67.3 L362.4,67.5 L362.5,67.8 L362.7,68.1 L362.8,68.4 L362.9,68.8 L363.0,69.3 L363.1,69.8 L363.2,70.4 L363.3,71.0 L363.4,71.8 L363.5,72.7 L363.6,73.6 L363.8,74.7 L363.9,76.0 L364.0,77.4 L364.1,79.0 L364.2,80.7 L364.3,82.7 L364.4,84.9 L364.5,87.4 L364.6,90.1 L364.7,93.2 L364.9,96.6 L365.0,100.3 L365.1,104.5 L365.2,109.1 L365.3,114.1 L365.4,119.5 L365.5,125.2 L365.6,131.1 L365.7,136.9 L365.8,142.0 L366.0,145.6 L366.1,146.9 L366.2,146.6 L366.3,145.8 L366.4,144.4 L366.5,142.6 L366.6,140.4 L366.7,138.0 L366.8,135.5 L366.9,132.8 L367.1,130.2 L367.2,127.5 L367.3,124.9 L367.4,122.3 L367.5,119.9 L367.6,117.5 L367.7,115.2 L367.8,113.1 L367.9,111.0 L368.0,109.1 L368.2,107.2 L368.3,105.4 L368.4,103.8 L368.5,102.2 L368.6,100.7 L368.7,99.3 L368.8,97.9 L368.9,96.7 L369.0,95.4 L369.1,94.3 L369.3,93.2 L369.4,92.2 L369.5,91.2 L369.6,90.3 L369.7,89.5 L369.8,88.6 L369.9,87.8 L370.0,87.1 L370.1,86.4 L370.2,85.7 L370.4,85.1 L370.5,84.5 L370.6,83.9 L370.7,83.3 L370.8,82.7 L370.9,82.1 L371.0,81.6 L371.1,81.1 L371.2,80.6 L371.3,80.2 L371.5,79.8 L371.6,79.3 L371.7,78.9 L371.8,78.5 L371.9,78.2 L372.0,77.8 L372.1,77.5 L372.2,77.1 L372.3,76.8 L372.4,76.5 L372.6,76.2 L372.7,75.9 L372.8,75.6 L372.9,75.4 L373.0,75.1 L373.1,74.9 L373.2,74.6 L373.3,74.4 L373.4,74.2 L373.5,74.0 L373.7,73.7 L373.8,73.5 L373.9,73.3 L374.0,73.1 L374.1,73.0 L374.2,72.8 L374.3,72.6 L374.4,72.4 L374.5,72.3 L374.6,72.1 L374.8,72.0 L374.9,71.8 L375.0,71.6 L375.1,71.5 L375.2,71.4 L375.3,71.2 L375.4,71.1 L375.5,71.0 L375.6,70.8 L375.7,70.7 L375.8,70.6 L376.0,70.5 L376.1,70.4 L376.2,70.2 L376.3,70.1 L376.4,70.0 L376.5,69.9 L376.6,69.8 L376.7,69.7 L376.8,69.6 L376.9,69.5 L377.1,69.4 L377.2,69.3 L377.3,69.2 L377.4,69.1 L377.5,69.0 L377.6,69.0 L377.7,68.9 L377.8,68.8 L377.9,68.7 L378.0,68.6 L378.2,68.5 L378.3,68.5 L378.4,68.4 L378.5,68.3 L378.6,68.2 L378.7,68.2 L378.8,68.1 L378.9,68.0 L379.0,68.0 L379.1,67.9 L379.3,67.8 L379.4,67.7 L379.5,67.6 L379.6,67.5 L379.7,67.5 L379.8,67.4 L379.9,67.3 L380.0,67.2 L380.1,67.1 L380.2,67.0 L380.4,66.9 L380.5,66.9 L380.6,66.8 L380.7,66.7 L380.8,66.6 L380.9,66.5 L381.0,66.4 L381.1,66.4 L381.2,66.3 L381.3,66.2 L381.5,66.1 L381.6,66.0 L381.7,66.0 L381.8,65.9 L381.9,65.8 L382.0,65.7 L382.1,65.7 L382.2,65.6 L382.3,65.5 L382.4,65.4 L382.6,65.4 L382.7,65.3 L382.8,65.2 L382.9,65.2 L383.0,65.1 L383.1,65.0 L383.2,64.9 L383.3,64.9 L383.4,64.8 L383.5,64.7 L383.7,64.7 L384.1,64.4 L384.5,64.1 L385.0,63.9 L385.4,63.6 L385.9,63.3 L386.3,63.1 L386.7,62.8 L387.2,62.6 L387.6,62.3 L388.1,62.1 L388.5,61.9 L388.9,61.6 L389.4,61.4 L389.8,61.2 L390.3,61.0 L390.7,60.8 L391.1,60.7 L391.6,60.5 L392.0,60.4 L392.5,60.4 L392.9,60.3 L393.3,60.4 L393.8,60.4 L394.2,60.5 L394.7,60.6 L395.1,60.7 L395.5,60.8 L396.0,60.8 L396.4,60.9 L396.9,60.8 L397.3,60.7 L397.7,60.3 L398.2,59.6 L398.6,58.7 L399.1,58.0 L399.5,57.5 L399.9,57.1 L400.4,56.8 L400.8,56.6 L401.2,56.4 L401.7,56.3 L402.1,56.1 L402.6,55.9 L403.0,55.8 L403.4,55.6 L403.9,55.4 L404.3,55.3 L404.8,55.1 L405.2,54.9 L405.6,54.8 L406.1,54.6 L406.5,54.4 L407.0,54.3 L407.4,54.1 L407.8,53.9 L408.3,53.8 L408.7,53.6 L409.2,53.5 L409.6,53.3 L410.0,53.1 L410.5,53.0 L410.9,52.8 L411.4,52.6 L411.8,52.5 L412.2,52.3 L412.7,52.2 L413.1,52.0 L413.6,51.8 L414.0,51.7 L414.4,51.5 L414.9,51.3 L415.3,51.2 L415.8,51.0 L416.2,50.8 L416.6,50.7 L417.1,50.5 L417.5,50.3 L418.0,50.2 L418.4,50.0 L418.8,49.8 L419.3,49.6 L419.7,49.5 L420.2,49.3 L420.6,49.1 L421.0,49.0 L421.5,48.8 L421.9,48.6 L422.4,48.5 L422.8,48.3 L423.2,48.1 L423.7,47.9 L424.1,47.8 L424.6,47.6 L425.0,47.4 L425.4,47.3 L425.9,47.1 L426.3,46.9 L426.8,46.8 L427.2,46.6 L427.6,46.4 L428.1,46.2 L428.5,46.1 L429.0,45.9 L429.4,45.7 L429.8,45.6 L430.3,45.4 L430.7,45.3 L431.2,45.2 L431.6,45.1 L432.0,45.0 L432.5,44.9 L432.9,44.7 L433.4,44.6 L433.8,44.5 L434.2,44.4 L434.7,44.3 L435.1,44.2 L435.6,44.1 L436.0,44.0 L436.4,43.9 L436.9,43.8 L437.3,43.6 L437.8,43.5 L438.2,43.4 L438.6,43.3 L439.1,43.2 L439.5,43.1 L440.0,43.0 L440.4,42.9 L440.8,42.8 L441.3,42.8 L441.7,42.7 L442.2,42.7 L442.6,42.6 L443.0,42.6 L443.5,42.7 L443.9,42.7 L444.4,42.8 L444.8,42.9 L445.2,43.0 L445.7,43.2 L446.1,43.3 L446.6,43.5 L447.0,43.6 L447.4,43.7 L447.9,43.7 L448.3,43.7 L448.8,43.7 L449.2,43.5 L449.6,43.0 L450.1,42.4 L450.5,41.8 L451.0,41.3 L451.4,40.9 L451.8,40.6 L452.3,40.4 L452.7,40.3 L453.2,40.2 L453.6,40.1 L454.0,40.0 L454.5,40.0 L454.9,39.9 L455.3,39.8 L455.8,39.7 L456.2,39.6 L456.7,39.6 L457.1,39.5 L457.5,39.4 L458.0,39.3 L458.4,39.2 L458.9,39.2 L459.3,39.1 L459.7,39.0 L460.2,38.9 L460.6,38.8 L461.1,38.7 L461.5,38.7 L461.9,38.6 L462.4,38.5 L462.8,38.4 L463.3,38.3 L463.7,38.3 L464.1,38.2 L464.6,38.1 L465.0,38.0 L465.5,37.9 L465.9,37.9 L466.3,37.8 L466.8,37.7 L467.2,37.6 L467.7,37.5 L468.1,37.5 L468.5,37.4 L469.0,37.3 L469.4,37.3 L469.9,37.2 L470.3,37.1 L470.7,37.1 L471.2,37.0 L471.6,36.9 L472.1,36.9 L472.5,36.8 L472.9,36.7 L473.4,36.7 L473.8,36.6 L474.3,36.5 L474.7,36.5 L475.1,36.4 L475.6,36.3 L476.0,36.3 L476.5,36.2 L476.9,36.1 L477.3,36.1 L477.8,36.0 L478.2,35.9 L478.7,35.9 L479.1,35.8 L479.5,35.7 L480.0,35.7 L480.4,35.6 L480.9,35.5 L481.3,35.5 L481.7,35.4 L482.2,35.3 L482.6,35.3 L483.1,35.2 L483.5,35.1 L483.9,35.1 L484.4,35.0 L484.8,34.9 L485.3,34.9 L485.7,34.8 L486.1,34.7 L486.6,34.7 L487.0,34.6 L487.5,34.6 L487.9,34.5 L488.3,34.4 L488.8,34.4 L489.2,34.3 L489.7,34.3 L490.1,34.2 L490.5,34.1 L491.0,34.1 L491.4,34.0 L491.9,34.0 L492.3,33.9 L492.7,33.8 L493.2,33.8 L493.6,33.7 L494.1,33.7 L494.5,33.6 L494.9,33.5 L495.4,33.5 L495.8,33.4 L496.3,33.3 L496.7,33.3 L497.1,33.2 L497.6,33.2 L498.0,33.1 L498.5,33.0 L498.9,33.0 L499.3,32.9 L499.8,32.9 L500.2,32.8 L500.7,32.7 L501.1,32.7 L501.5,32.6 L502.0,32.6 L502.4,32.5 L502.9,32.4 L503.3,32.4 L503.7,32.3 L504.2,32.3 L504.6,32.2 L505.1,32.1 L505.5,32.1 L505.9,32.0 L506.4,32.0 L506.8,31.9 L507.2,31.8 L507.7,31.8 L508.1,31.7 L508.6,31.7 L509.0,31.6 L509.4,31.6 L509.9,31.5 L510.3,31.5 L510.8,31.4 L511.2,31.3 L511.6,31.3 L512.1,31.2 L512.5,31.2 L513.0,31.1 L513.4,31.1 L513.8,31.0 L514.3,30.9 L514.7,30.9 L515.2,30.8 L515.6,30.8 L516.0,30.7 L516.5,30.7 L516.9,30.6 L517.4,30.6 L517.8,30.5 L518.2,30.4 L518.7,30.4 L519.1,30.3 L519.6,30.3 L520.0,30.2 L520.4,30.2 L520.9,30.1 L521.3,30.1 L521.8,30.0 L522.2,29.9 L522.6,29.9 L523.1,29.8 L523.5,29.8 L524.0,29.7 L524.4,29.7 L524.8,29.6 L525.3,29.5 L525.7,29.5 L526.2,29.4 L526.6,29.4 L527.0,29.3 L527.5,29.3 L527.9,29.2 L528.4,29.2 L528.8,29.1 L529.2,29.0 L529.7,29.0 L530.1,28.9 L530.6,28.9 L531.0,28.8 L531.4,28.8 L531.9,28.7 L532.3,28.7 L532.8,28.6 L533.2,28.5" stroke="#0a00e0" stroke-width="3.6" stroke-dasharray="14.5 14.6" stroke-dashoffset="4.26"/>
<path d="M269.3,65.6 L269.4,65.6 L269.5,65.6 L269.6,65.6 L269.7,65.6 L269.8,65.6 L270.0,65.6 L270.1,65.6 L270.2,65.6 L270.3,65.6 L270.4,65.6 L270.5,65.6 L270.6,65.6 L270.7,65.6 L270.8,65.6 L270.9,65.6 L271.1,65.6 L271.2,65.6 L271.3,65.6 L271.4,65.6 L271.5,65.6 L271.6,65.6 L271.7,65.6 L271.8,65.6 L271.9,65.6 L272.0,65.6 L272.2,65.6 L272.3,65.6 L272.4,65.6 L272.5,65.6 L272.6,65.6 L272.7,65.6 L272.8,65.6 L272.9,65.6 L273.0,65.6 L273.1,65.6 L273.3,65.6 L273.4,65.6 L273.5,65.6 L273.6,65.6 L273.7,65.6 L273.8,65.6 L273.9,65.6 L274.0,65.6 L274.1,65.6 L274.2,65.6 L274.4,65.6 L274.5,65.6 L274.6,65.6 L274.7,65.6 L274.8,65.6 L274.9,65.6 L275.0,65.6 L275.1,65.6 L275.2,65.6 L275.3,65.6 L275.5,65.6 L275.6,65.6 L275.7,65.6 L275.8,65.6 L275.9,65.6 L276.0,65.6 L276.1,65.6 L276.2,65.6 L276.3,65.6 L276.4,65.6 L276.6,65.6 L276.7,65.6 L276.8,65.6 L276.9,65.6 L277.0,65.6 L277.1,65.6 L277.2,65.6 L277.3,65.6 L277.4,65.6 L277.5,65.6 L277.7,65.6 L277.8,65.6 L277.9,65.6 L278.0,65.6 L278.1,65.6 L278.2,65.6 L278.3,65.6 L278.4,65.6 L278.5,65.6 L278.6,65.6 L278.8,65.6 L278.9,65.6 L279.0,65.6 L279.1,65.6 L279.2,65.6 L279.3,65.6 L279.4,65.6 L279.5,65.6 L279.6,65.6 L279.7,65.6 L279.9,65.6 L280.0,65.6 L280.1,65.6 L280.2,65.6 L280.3,65.6 L280.4,65.6 L280.5,65.6 L280.6,65.6 L280.7,65.6 L280.8,65.6 L281.0,65.6 L281.1,65.6 L281.2,65.6 L281.3,65.6 L281.4,65.6 L281.5,65.6 L281.6,65.6 L281.7,65.6 L281.8,65.6 L281.9,65.6 L282.1,65.6 L282.2,65.6 L282.3,65.6 L282.4,65.6 L282.5,65.7 L282.6,65.7 L282.7,65.7 L282.8,65.7 L282.9,65.7 L283.0,65.7 L283.2,65.7 L283.3,65.7 L283.4,65.7 L283.5,65.7 L283.6,65.8 L283.7,65.8 L283.8,65.8 L283.9,65.9 L284.0,66.0 L284.1,66.1 L284.3,66.2 L284.4,66.3 L284.5,66.5 L284.6,66.8 L284.7,67.1 L284.8,67.5 L284.9,67.9 L285.0,68.5 L285.1,69.2 L285.2,70.1 L285.4,71.2 L285.5,72.4 L285.6,74.0 L285.7,75.8 L285.8,78.1 L285.9,80.7 L286.0,83.8 L286.1,87.5 L286.2,91.8 L286.3,96.8 L286.5,102.6 L286.6,109.2 L286.7,116.5 L286.8,124.4 L286.9,132.1 L287.0,138.1 L287.1,140.5 L287.2,140.1 L287.3,138.9 L287.4,137.1 L287.6,134.8 L287.7,132.0 L287.8,129.0 L287.9,125.8 L288.0,122.5 L288.1,119.2 L288.2,116.0 L288.3,112.8 L288.4,109.7 L288.5,106.8 L288.7,103.9 L288.8,101.2 L288.9,98.7 L289.0,96.2 L289.1,93.9 L289.2,91.7 L289.3,89.7 L289.4,87.7 L289.5,85.9 L289.6,84.2 L289.8,82.6 L289.9,81.2 L290.0,79.8 L290.1,78.5 L290.2,77.3 L290.3,76.2 L290.4,75.2 L290.5,74.3 L290.6,73.4 L290.7,72.6 L290.9,71.9 L291.0,71.3 L291.1,70.7 L291.2,70.1 L291.3,69.6 L291.4,69.2 L291.5,68.7 L291.6,68.4 L291.7,68.0 L291.8,67.7 L292.0,67.5 L292.1,67.2 L292.2,67.0 L292.3,66.8 L292.4,66.6 L292.5,66.5 L292.6,66.3 L292.7,66.2 L292.8,66.1 L292.9,66.0 L293.1,65.9 L293.2,65.8 L293.3,65.7 L293.4,65.7 L293.5,65.6 L293.6,65.6 L293.7,65.5 L293.8,65.5 L293.9,65.5 L294.0,65.4 L294.2,65.4 L294.3,65.4 L294.4,65.3 L294.5,65.3 L294.6,65.3 L294.7,65.3 L294.8,65.3 L294.9,65.3 L295.0,65.2 L295.1,65.2 L295.3,65.2 L295.4,65.2 L295.5,65.2 L295.6,65.2 L295.7,65.2 L295.8,65.2 L295.9,65.2 L296.0,65.2 L296.1,65.2 L296.2,65.2 L296.3,65.1 L296.5,65.1 L296.6,65.1 L296.7,65.1 L296.8,65.1 L296.9,65.1 L297.0,65.1 L297.1,65.1 L297.2,65.1 L297.3,65.1 L297.4,65.1 L297.6,65.1 L297.7,65.1 L297.8,65.1 L297.9,65.1 L298.0,65.1 L298.1,65.1 L298.2,65.1 L298.3,65.1 L298.4,65.0 L298.5,65.0 L298.7,65.0 L298.8,65.0 L298.9,65.0 L299.0,65.0 L299.1,65.0 L299.2,65.0 L299.3,65.0 L299.4,65.0 L299.5,65.0 L299.6,65.0 L299.8,65.0 L299.9,65.0 L300.0,65.0 L300.1,65.0 L300.2,65.0 L300.3,65.0 L300.4,64.9 L300.5,64.9 L300.6,64.9 L300.7,64.9 L300.9,64.9 L301.0,64.9 L301.1,64.9 L301.2,64.9 L301.3,64.8 L301.4,64.8 L301.5,64.8 L301.6,64.8 L301.7,64.8 L301.8,64.8 L302.0,64.8 L302.1,64.8 L302.2,64.8 L302.3,64.7 L302.4,64.7 L302.5,64.7 L302.6,64.7 L302.7,64.7 L302.8,64.7 L302.9,64.7 L303.1,64.7 L303.2,64.6 L303.3,64.6 L303.4,64.6 L303.5,64.6 L303.6,64.6 L303.7,64.6 L303.8,64.6 L303.9,64.6 L304.0,64.6 L304.2,64.5 L304.3,64.5 L304.4,64.5 L304.5,64.5 L304.6,64.5 L304.7,64.5 L304.8,64.5 L304.9,64.5 L305.0,64.4 L305.1,64.4 L305.3,64.4 L305.4,64.4 L305.5,64.4 L305.6,64.4 L305.7,64.4 L305.8,64.4 L305.9,64.4 L306.0,64.3 L306.1,64.3 L306.2,64.3 L306.4,64.3 L306.5,64.3 L306.6,64.3 L306.7,64.3 L306.8,64.3 L306.9,64.2 L307.0,64.2 L307.1,64.2 L307.2,64.2 L307.3,64.2 L307.5,64.2 L307.6,64.2 L307.7,64.2 L307.8,64.2 L307.9,64.1 L308.0,64.1 L308.1,64.1 L308.2,64.1 L308.3,64.1 L308.4,64.1 L308.6,64.1 L308.7,64.1 L308.8,64.0 L308.9,64.0 L309.0,64.0 L309.1,64.0 L309.2,64.0 L309.3,64.0 L309.4,64.0 L309.5,64.0 L309.7,63.9 L309.8,63.9 L309.9,63.9 L310.0,63.9 L310.1,63.9 L310.2,63.9 L310.3,63.9 L310.4,63.9 L310.5,63.9 L310.6,63.8 L310.8,63.8 L310.9,63.8 L311.0,63.8 L311.1,63.8 L311.2,63.8 L311.3,63.8 L311.4,63.8 L311.5,63.7 L311.6,63.7 L311.7,63.7 L311.9,63.7 L312.0,63.7 L312.1,63.7 L312.2,63.7 L312.3,63.7 L312.4,63.7 L312.5,63.6 L312.6,63.6 L312.7,63.6 L312.8,63.6 L313.0,63.6 L313.1,63.6 L313.2,63.6 L313.3,63.6 L313.4,63.5 L313.5,63.5 L313.6,63.5 L313.7,63.5 L313.8,63.5 L313.9,63.5 L314.1,63.5 L314.2,63.5 L314.3,63.5 L314.4,63.4 L314.5,63.4 L314.6,63.4 L314.7,63.4 L314.8,63.4 L314.9,63.4 L315.0,63.4 L315.2,63.4 L315.3,63.3 L315.4,63.3 L315.5,63.3 L315.6,63.3 L315.7,63.3 L315.8,63.3 L315.9,63.3 L316.0,63.3 L316.1,63.3 L316.3,63.2 L316.4,63.2 L316.5,63.2 L316.6,63.2 L316.7,63.2 L316.8,63.2 L316.9,63.2 L317.0,63.2 L317.1,63.1 L317.2,63.1 L317.4,63.1 L317.5,63.1 L317.6,63.1 L317.7,63.1 L317.8,63.1 L317.9,63.1 L318.0,63.1 L318.1,63.0 L318.2,63.0 L318.3,63.0 L318.5,63.0 L318.6,63.0 L318.7,63.0 L318.8,63.0 L318.9,63.0 L319.0,62.9 L319.1,62.9 L319.2,62.9 L319.3,62.9 L319.4,62.9 L319.6,62.9 L319.7,62.9 L319.8,62.9 L319.9,62.9 L320.0,62.8 L320.1,62.8 L320.2,62.8 L320.3,62.8 L320.4,62.8 L320.5,62.8 L320.7,62.8 L320.8,62.8 L320.9,62.7 L321.0,62.7 L321.1,62.7 L321.2,62.7 L321.3,62.7 L321.4,62.7 L321.5,62.7 L321.6,62.7 L321.8,62.7 L321.9,62.6 L322.0,62.6 L322.1,62.6 L322.2,62.6 L322.3,62.6 L322.4,62.6 L322.5,62.6 L322.6,62.6 L322.7,62.5 L322.8,62.5 L323.0,62.5 L323.1,62.5 L323.2,62.5 L323.3,62.5 L323.4,62.5 L323.5,62.5 L323.6,62.5 L323.7,62.4 L323.8,62.4 L323.9,62.4 L324.1,62.4 L324.2,62.4 L324.3,62.4 L324.4,62.4 L324.5,62.4 L324.6,62.3 L324.7,62.3 L324.8,62.3 L324.9,62.3 L325.0,62.3 L325.2,62.3 L325.3,62.3 L325.4,62.3 L325.5,62.2 L325.6,62.2 L325.7,62.2 L325.8,62.2 L325.9,62.2 L326.0,62.2 L326.1,62.2 L326.3,62.2 L326.4,62.2 L326.5,62.1 L326.6,62.1 L326.7,62.1 L326.8,62.1 L326.9,62.1 L327.0,62.1 L327.1,62.1 L327.2,62.1 L327.4,62.0 L327.5,62.0 L327.6,62.0 L327.7,62.0 L327.8,62.0 L327.9,62.0 L328.0,62.0 L328.1,62.0 L328.2,62.0 L328.3,61.9 L328.5,61.9 L328.6,61.9 L328.7,61.9 L328.8,61.9 L328.9,61.9 L329.0,61.9 L329.1,61.9 L329.2,61.8 L329.3,61.8 L329.4,61.8 L329.6,61.8 L329.7,61.8 L329.8,61.8 L329.9,61.8 L330.0,61.8 L330.1,61.8 L330.2,61.7 L330.3,61.7 L330.4,61.7 L330.5,61.7 L330.7,61.7 L330.8,61.7 L330.9,61.7 L331.0,61.7 L331.1,61.7 L331.2,61.7 L331.3,61.7 L331.4,61.7 L331.5,61.7 L331.6,61.7 L331.8,61.7 L331.9,61.7 L332.0,61.7 L332.1,61.7 L332.2,61.7 L332.3,61.7 L332.4,61.8 L332.5,61.8 L332.6,61.9 L332.7,62.0 L332.9,62.1 L333.0,62.2 L333.1,62.3 L333.2,62.5 L333.3,62.7 L333.4,62.9 L333.5,63.2 L333.6,63.5 L333.7,63.9 L333.8,64.3 L334.0,64.8 L334.1,65.4 L334.2,66.1 L334.3,66.9 L334.4,67.9 L334.5,68.9 L334.6,70.2 L334.7,71.6 L334.8,73.2 L334.9,75.0 L335.1,77.1 L335.2,79.4 L335.3,82.0 L335.4,84.9 L335.5,88.2 L335.6,91.8 L335.7,95.7 L335.8,100.0 L335.9,104.6 L336.0,109.3 L336.2,114.1 L336.3,118.6 L336.4,122.4 L336.5,125.0 L336.6,126.0 L336.7,125.7 L336.8,125.1 L336.9,124.1 L337.0,122.8 L337.1,121.2 L337.3,119.4 L337.4,117.4 L337.5,115.3 L337.6,113.2 L337.7,111.1 L337.8,109.0 L337.9,106.9 L338.0,104.9 L338.1,102.9 L338.2,101.0 L338.4,99.2 L338.5,97.5 L338.6,95.8 L338.7,94.2 L338.8,92.7 L338.9,91.3 L339.0,90.0 L339.1,88.7 L339.2,87.5 L339.3,86.3 L339.5,85.3 L339.6,84.2 L339.7,83.3 L339.8,82.4 L339.9,81.5 L340.0,80.7 L340.1,79.9 L340.2,79.2 L340.3,78.5 L340.4,77.8 L340.6,77.2 L340.7,76.6 L340.8,76.0 L340.9,75.5 L341.0,75.0 L341.1,74.5 L341.2,74.1 L341.3,73.6 L341.4,73.2 L341.5,72.8 L341.7,72.5 L341.8,72.1 L341.9,71.8 L342.0,71.4 L342.1,71.1 L342.2,70.8 L342.3,70.6 L342.4,70.3 L342.5,70.0 L342.6,69.8 L342.8,69.6 L342.9,69.3 L343.0,69.1 L343.1,68.9 L343.2,68.7 L343.3,68.5 L343.4,68.4 L343.5,68.2 L343.6,68.0 L343.7,67.9 L343.9,67.7 L344.0,67.6 L344.1,67.4 L344.2,67.3 L344.3,67.2 L344.4,67.0 L344.5,66.9 L344.6,66.8 L344.7,66.7 L344.8,66.6 L345.0,66.5 L345.1,66.4 L345.2,66.3 L345.3,66.2 L345.4,66.1 L345.5,66.1 L345.6,66.0 L345.7,65.9 L345.8,65.8 L345.9,65.7 L346.1,65.7 L346.2,65.6 L346.3,65.5 L346.4,65.5 L346.5,65.4 L346.6,65.4 L346.7,65.3 L346.8,65.3 L346.9,65.3 L347.0,65.2 L347.2,65.2 L347.3,65.1 L347.4,65.1 L347.5,65.1 L347.6,65.0 L347.7,65.0 L347.8,65.0 L347.9,64.9 L348.0,64.9 L348.1,64.9 L348.3,64.9 L348.4,64.8 L348.5,64.8 L348.6,64.8 L348.7,64.8 L348.8,64.8 L348.9,64.7 L349.0,64.7 L349.1,64.7 L349.2,64.7 L349.3,64.7 L349.5,64.7 L349.6,64.7 L349.7,64.6 L349.8,64.6 L349.9,64.6 L350.0,64.6 L350.1,64.6 L350.2,64.6 L350.3,64.6 L350.4,64.6 L350.6,64.6 L350.7,64.6 L350.8,64.6 L350.9,64.6 L351.0,64.6 L351.1,64.5 L351.2,64.5 L351.3,64.5 L351.4,64.5 L351.5,64.5 L351.7,64.5 L351.8,64.5 L351.9,64.5 L352.0,64.5 L352.1,64.5 L352.2,64.5 L352.3,64.5 L352.4,64.5 L352.5,64.5 L352.6,64.5 L352.8,64.5 L352.9,64.6 L353.0,64.6 L353.1,64.6 L353.2,64.6 L353.3,64.6 L353.4,64.6 L353.5,64.6 L353.6,64.6 L353.7,64.6 L353.9,64.6 L354.0,64.6 L354.1,64.6 L354.2,64.6 L354.3,64.6 L354.4,64.6 L354.5,64.6 L354.6,64.6 L354.7,64.7 L354.8,64.7 L355.0,64.7 L355.1,64.7 L355.2,64.7 L355.3,64.7 L355.4,64.7 L355.5,64.7 L355.6,64.7 L355.7,64.8 L355.8,64.8 L355.9,64.8 L356.1,64.8 L356.2,64.8 L356.3,64.8 L356.4,64.8 L356.5,64.9 L356.6,64.9 L356.7,64.9 L356.8,64.9 L356.9,64.9 L357.0,64.9 L357.2,65.0 L357.3,65.0 L357.4,65.0 L357.5,65.0 L357.6,65.0 L357.7,65.1 L357.8,65.1 L357.9,65.1 L358.0,65.2 L358.1,65.2 L358.3,65.2 L358.4,65.3 L358.5,65.3 L358.6,65.4 L358.7,65.4 L358.8,65.5 L358.9,65.6 L359.0,65.7 L359.1,65.8 L359.2,65.9 L359.4,66.0 L359.5,66.2 L359.6,66.4 L359.7,66.6 L359.8,66.8 L359.9,67.1 L360.0,67.4 L360.1,67.7 L360.2,68.1 L360.3,68.6 L360.5,69.1 L360.6,69.7 L360.7,70.4 L360.8,71.1 L360.9,72.0 L361.0,73.0 L361.1,74.1 L361.2,75.3 L361.3,76.8 L361.4,78.3 L361.6,80.1 L361.7,82.1 L361.8,84.3 L361.9,86.8 L362.0,89.6 L362.1,92.7 L362.2,96.1 L362.3,99.9 L362.4,104.1 L362.5,108.7 L362.7,113.8 L362.8,119.3 L362.9,125.1 L363.0,131.2 L363.1,137.2 L363.2,142.4 L363.3,146.2 L363.4,147.6 L363.5,147.3 L363.6,146.4 L363.8,145.0 L363.9,143.1 L364.0,140.8 L364.1,138.3 L364.2,135.7 L364.3,133.0 L364.4,130.2 L364.5,127.5 L364.6,124.8 L364.7,122.2 L364.9,119.7 L365.0,117.3 L365.1,115.0 L365.2,112.8 L365.3,110.7 L365.4,108.7 L365.5,106.8 L365.6,105.0 L365.7,103.4 L365.8,101.8 L366.0,100.2 L366.1,98.8 L366.2,97.5 L366.3,96.2 L366.4,95.0 L366.5,93.8 L366.6,92.7 L366.7,91.7 L366.8,90.7 L366.9,89.8 L367.1,88.9 L367.2,88.1 L367.3,87.3 L367.4,86.6 L367.5,85.8 L367.6,85.2 L367.7,84.5 L367.8,83.9 L367.9,83.3 L368.0,82.8 L368.2,82.3 L368.3,81.8 L368.4,81.3 L368.5,80.9 L368.6,80.4 L368.7,80.0 L368.8,79.6 L368.9,79.2 L369.0,78.9 L369.1,78.5 L369.3,78.2 L369.4,77.9 L369.5,77.6 L369.6,77.3 L369.7,77.1 L369.8,76.8 L369.9,76.6 L370.0,76.3 L370.1,76.1 L370.2,75.9 L370.4,75.7 L370.5,75.5 L370.6,75.2 L370.7,75.0 L370.8,74.8 L370.9,74.5 L371.0,74.3 L371.1,74.1 L371.2,73.9 L371.3,73.7 L371.5,73.6 L371.6,73.4 L371.7,73.2 L371.8,73.0 L371.9,72.9 L372.0,72.7 L372.1,72.5 L372.2,72.4 L372.3,72.2 L372.4,72.1 L372.6,72.0 L372.7,71.8 L372.8,71.7 L372.9,71.5 L373.0,71.4 L373.1,71.3 L373.2,71.2 L373.3,71.1 L373.4,70.9 L373.5,70.8 L373.7,70.7 L373.8,70.6 L373.9,70.5 L374.0,70.4 L374.1,70.3 L374.2,70.2 L374.3,70.1 L374.4,70.0 L374.5,69.9 L374.6,69.8 L374.8,69.7 L374.9,69.6 L375.0,69.5 L375.1,69.5 L375.2,69.4 L375.3,69.3 L375.4,69.2 L375.5,69.1 L375.6,69.1 L375.7,69.0 L375.8,68.9 L376.0,68.8 L376.1,68.8 L376.2,68.7 L376.3,68.6 L376.4,68.5 L376.5,68.5 L376.6,68.4 L376.7,68.3 L376.8,68.3 L376.9,68.2 L377.1,68.1 L377.2,68.1 L377.3,68.0 L377.4,68.0 L377.5,67.9 L377.6,67.8 L377.7,67.8 L377.8,67.7 L377.9,67.7 L378.0,67.6 L378.2,67.5 L378.3,67.5 L378.4,67.4 L378.5,67.4 L378.6,67.3 L378.7,67.3 L378.8,67.2 L378.9,67.2 L379.0,67.1 L379.1,67.1 L379.3,67.0 L379.4,66.9 L379.5,66.9 L379.6,66.8 L379.7,66.7 L379.8,66.6 L379.9,66.6 L380.0,66.5 L380.1,66.4 L380.2,66.3 L380.4,66.3 L380.5,66.2 L380.6,66.1 L380.7,66.1 L380.8,66.0 L380.9,65.9 L381.0,65.9 L381.1,65.8 L381.2,65.7 L381.3,65.6 L381.5,65.6 L381.6,65.5 L381.7,65.4 L381.8,65.4 L381.9,65.3 L382.0,65.2 L382.1,65.2 L382.2,65.1 L382.3,65.0 L382.4,65.0 L382.6,64.9 L382.7,64.9 L382.8,64.8 L382.9,64.7 L383.0,64.7 L383.1,64.6 L383.2,64.5 L383.3,64.5 L383.4,64.4 L383.5,64.3 L383.7,64.3 L384.1,64.0 L384.5,63.8 L385.0,63.6 L385.4,63.4 L385.9,63.2 L386.3,63.0 L386.7,62.9 L387.2,62.8 L387.6,62.7 L388.1,62.7" stroke="#0a0a0a" stroke-width="3.9" stroke-dasharray="14.3 4.4 6.4 4.0" stroke-dashoffset="0"/>
<path d="M388.1,62.7 L388.5,62.8 L388.9,62.8 L389.4,62.9 L389.8,63.0 L390.3,63.1 L390.7,63.2 L391.1,63.2 L391.6,63.2 L392.0,63.0 L392.5,62.6 L392.9,61.8 L393.3,60.9 L393.8,60.1 L394.2,59.5 L394.7,59.1 L395.1,58.8 L395.5,58.6 L396.0,58.4 L396.4,58.2 L396.9,58.1 L397.3,57.9 L397.7,57.7 L398.2,57.6 L398.6,57.4 L399.1,57.2 L399.5,57.0 L399.9,56.9 L400.4,56.7 L400.8,56.5 L401.2,56.4 L401.7,56.2 L402.1,56.0 L402.6,55.9 L403.0,55.7 L403.4,55.5 L403.9,55.4 L404.3,55.2 L404.8,55.0 L405.2,54.9 L405.6,54.7 L406.1,54.6 L406.5,54.4 L407.0,54.2 L407.4,54.1 L407.8,53.9 L408.3,53.7 L408.7,53.6 L409.2,53.4 L409.6,53.3 L410.0,53.1 L410.5,52.9 L410.9,52.8 L411.4,52.6 L411.8,52.4 L412.2,52.3 L412.7,52.1 L413.1,52.0 L413.6,51.8 L414.0,51.6 L414.4,51.5 L414.9,51.3 L415.3,51.2 L415.8,51.0 L416.2,50.8 L416.6,50.7 L417.1,50.5 L417.5,50.3 L418.0,50.1 L418.4,50.0 L418.8,49.8 L419.3,49.6 L419.7,49.5 L420.2,49.3 L420.6,49.1 L421.0,48.9 L421.5,48.8 L421.9,48.6 L422.4,48.4 L422.8,48.3 L423.2,48.1 L423.7,47.9 L424.1,47.8 L424.6,47.6 L425.0,47.4 L425.4,47.3 L425.9,47.1 L426.3,46.9 L426.8,46.7 L427.2,46.6 L427.6,46.4 L428.1,46.2 L428.5,46.1 L429.0,45.9 L429.4,45.7 L429.8,45.6 L430.3,45.4 L430.7,45.3 L431.2,45.2 L431.6,45.1 L432.0,44.9 L432.5,44.8 L432.9,44.7 L433.4,44.6 L433.8,44.5 L434.2,44.4 L434.7,44.3 L435.1,44.2 L435.6,44.1 L436.0,44.0 L436.4,43.9 L436.9,43.8 L437.3,43.7 L437.8,43.6 L438.2,43.5 L438.6,43.4 L439.1,43.4 L439.5,43.4 L440.0,43.4 L440.4,43.4 L440.8,43.5 L441.3,43.5 L441.7,43.7 L442.2,43.8 L442.6,44.0 L443.0,44.2 L443.5,44.4 L443.9,44.5 L444.4,44.7 L444.8,44.8 L445.2,44.9 L445.7,44.9 L446.1,44.8 L446.6,44.6 L447.0,44.0 L447.4,43.3 L447.9,42.5 L448.3,41.9 L448.8,41.4 L449.2,41.1 L449.6,40.9 L450.1,40.8 L450.5,40.7 L451.0,40.6 L451.4,40.5 L451.8,40.4 L452.3,40.4 L452.7,40.3 L453.2,40.2 L453.6,40.1 L454.0,40.0 L454.5,40.0 L454.9,39.9 L455.3,39.8 L455.8,39.7 L456.2,39.6 L456.7,39.6 L457.1,39.5 L457.5,39.4 L458.0,39.3 L458.4,39.2 L458.9,39.1 L459.3,39.1 L459.7,39.0 L460.2,38.9 L460.6,38.8 L461.1,38.7 L461.5,38.7 L461.9,38.6 L462.4,38.5 L462.8,38.4 L463.3,38.3 L463.7,38.3 L464.1,38.2 L464.6,38.1 L465.0,38.0 L465.5,37.9 L465.9,37.9 L466.3,37.8 L466.8,37.7 L467.2,37.6 L467.7,37.5 L468.1,37.5 L468.5,37.4 L469.0,37.3 L469.4,37.3 L469.9,37.2 L470.3,37.1 L470.7,37.1 L471.2,37.0 L471.6,36.9 L472.1,36.9 L472.5,36.8 L472.9,36.7 L473.4,36.7 L473.8,36.6 L474.3,36.5 L474.7,36.5 L475.1,36.4 L475.6,36.3 L476.0,36.3 L476.5,36.2 L476.9,36.1 L477.3,36.1 L477.8,36.0 L478.2,35.9 L478.7,35.9 L479.1,35.8 L479.5,35.7 L480.0,35.7 L480.4,35.6 L480.9,35.5 L481.3,35.5 L481.7,35.4 L482.2,35.3 L482.6,35.3 L483.1,35.2 L483.5,35.1 L483.9,35.1 L484.4,35.0 L484.8,34.9 L485.3,34.9 L485.7,34.8 L486.1,34.7 L486.6,34.7 L487.0,34.6 L487.5,34.6 L487.9,34.5 L488.3,34.4 L488.8,34.4 L489.2,34.3 L489.7,34.3 L490.1,34.2 L490.5,34.1 L491.0,34.1 L491.4,34.0 L491.9,34.0 L492.3,33.9 L492.7,33.8 L493.2,33.8 L493.6,33.7 L494.1,33.7 L494.5,33.6 L494.9,33.5 L495.4,33.5 L495.8,33.4 L496.3,33.3 L496.7,33.3 L497.1,33.2 L497.6,33.2 L498.0,33.1 L498.5,33.0 L498.9,33.0 L499.3,32.9 L499.8,32.9 L500.2,32.8 L500.7,32.7 L501.1,32.7 L501.5,32.6 L502.0,32.6 L502.4,32.5 L502.9,32.4 L503.3,32.4 L503.7,32.3 L504.2,32.3 L504.6,32.2 L505.1,32.1 L505.5,32.1 L505.9,32.0 L506.4,32.0 L506.8,31.9 L507.2,31.8 L507.7,31.8 L508.1,31.7 L508.6,31.7 L509.0,31.6 L509.4,31.6 L509.9,31.5 L510.3,31.4 L510.8,31.4 L511.2,31.3 L511.6,31.3 L512.1,31.2 L512.5,31.2 L513.0,31.1 L513.4,31.1 L513.8,31.0 L514.3,30.9 L514.7,30.9 L515.2,30.8 L515.6,30.8 L516.0,30.7 L516.5,30.7 L516.9,30.6 L517.4,30.6 L517.8,30.5 L518.2,30.4 L518.7,30.4 L519.1,30.3 L519.6,30.3 L520.0,30.2 L520.4,30.2 L520.9,30.1 L521.3,30.1 L521.8,30.0 L522.2,29.9 L522.6,29.9 L523.1,29.8 L523.5,29.8 L524.0,29.7 L524.4,29.7 L524.8,29.6 L525.3,29.5 L525.7,29.5 L526.2,29.4 L526.6,29.4 L527.0,29.3 L527.5,29.3 L527.9,29.2 L528.4,29.2 L528.8,29.1 L529.2,29.0 L529.7,29.0 L530.1,28.9 L530.6,28.9 L531.0,28.8 L531.4,28.8 L531.9,28.7 L532.3,28.7 L532.8,28.6 L533.2,28.5" stroke="#0a0a0a" stroke-width="3.9" stroke-dasharray="14.3 4.4 6.4 4.0" stroke-dashoffset="6.60"/>
</g>
<rect x="269.3" y="9.4" width="263.9" height="234.2" fill="none" stroke="#454545" stroke-width="1.2"/>
<g stroke="#262626" stroke-width="1"><line x1="357.3" y1="243.6" x2="357.3" y2="240.6"/><line x1="357.3" y1="9.4" x2="357.3" y2="12.4"/><line x1="445.2" y1="243.6" x2="445.2" y2="240.6"/><line x1="445.2" y1="9.4" x2="445.2" y2="12.4"/><line x1="269.3" y1="42.9" x2="272.3" y2="42.9"/><line x1="533.2" y1="42.9" x2="530.2" y2="42.9"/><line x1="269.3" y1="109.8" x2="272.3" y2="109.8"/><line x1="533.2" y1="109.8" x2="530.2" y2="109.8"/><line x1="269.3" y1="176.7" x2="272.3" y2="176.7"/><line x1="533.2" y1="176.7" x2="530.2" y2="176.7"/></g>
<g font-family="'Liberation Serif', serif" font-size="21.3" fill="#262626">
<text x="262.2" y="50.3" text-anchor="end">-20</text>
<text x="262.2" y="117.2" text-anchor="end">-30</text>
<text x="262.2" y="184.1" text-anchor="end">-40</text>
<text x="262.2" y="251.0" text-anchor="end">-50</text>
<text x="269.3" y="270.9" text-anchor="middle">6</text>
<text x="357.3" y="270.9" text-anchor="middle">8</text>
<text x="446.3" y="270.9" text-anchor="middle">10</text>
<text x="534.3" y="270.9" text-anchor="middle">12</text>
</g>
<text x="401.2" y="295.2" font-family="'Liberation Serif', serif" font-weight="bold" font-size="21.7" fill="#262626" text-anchor="middle">Frequency (GHz)</text>
<text transform="translate(227 126.6) rotate(-90)" font-family="'Liberation Serif', serif" font-weight="bold" font-size="21.8" fill="#262626" text-anchor="middle">RCS (dBsm)</text>
<g fill="none" stroke="#0ca840" stroke-width="2.9" stroke-dasharray="5.6 2.6">
<rect x="279.3" y="82.9" width="106.7" height="67.8"/>
<line x1="386" y1="82.9" x2="402.6" y2="62"/>
</g>
<g fill="none" stroke="#0ca840" stroke-width="1.6" stroke-dasharray="4.8 2.6">
<rect x="402.2" y="61.8" width="127.8" height="93" fill="#ffffff"/>
<line x1="386" y1="150.7" x2="402.2" y2="154.8"/>
</g>
<g stroke="#dcdcdc" stroke-width="1">
<line x1="470.5" y1="70.2" x2="470.5" y2="136.5"/>
<line x1="423.0" y1="96.2" x2="518.0" y2="96.2"/>
<line x1="423.0" y1="121.5" x2="518.0" y2="121.5"/>
</g>
<clipPath id="cpi"><rect x="423.0" y="70.2" width="95.0" height="66.3"/></clipPath>
<g clip-path="url(#cpi)" fill="none" stroke-linejoin="round">
<path d="M423.0,59.4 L423.2,59.4 L423.5,59.4 L423.7,59.4 L423.9,59.4 L424.2,59.4 L424.4,59.4 L424.7,59.4 L424.9,59.4 L425.1,59.4 L425.4,59.4 L425.6,59.3 L425.9,59.3 L426.1,59.3 L426.3,59.3 L426.6,59.3 L426.8,59.3 L427.0,59.3 L427.3,59.3 L427.5,59.3 L427.8,59.3 L428.0,59.3 L428.2,59.3 L428.5,59.3 L428.7,59.3 L428.9,59.3 L429.2,59.3 L429.4,59.3 L429.7,59.3 L429.9,59.3 L430.1,59.4 L430.4,59.4 L430.6,59.4 L430.8,59.4 L431.1,59.4 L431.3,59.4 L431.6,59.4 L431.8,59.4 L432.0,59.4 L432.3,59.5 L432.5,59.5 L432.7,59.5 L433.0,59.5 L433.2,59.5 L433.5,59.5 L433.7,59.5 L433.9,59.6 L434.2,59.6 L434.4,59.6 L434.6,59.6 L434.9,59.7 L435.1,59.7 L435.3,59.8 L435.6,59.8 L435.8,59.9 L436.1,60.0 L436.3,60.0 L436.5,60.1 L436.8,60.3 L437.0,60.4 L437.3,60.6 L437.5,60.8 L437.7,61.0 L438.0,61.2 L438.2,61.5 L438.4,61.9 L438.7,62.3 L438.9,62.7 L439.1,63.3 L439.4,63.9 L439.6,64.6 L439.9,65.4 L440.1,66.4 L440.3,67.4 L440.6,68.6 L440.8,70.0 L441.1,71.6 L441.3,73.3 L441.5,75.2 L441.8,77.4 L442.0,79.8 L442.2,82.4 L442.5,85.3 L442.7,88.4 L442.9,91.6 L443.2,95.0 L443.4,98.4 L443.7,101.5 L443.9,104.1 L444.1,105.9 L444.4,106.5 L444.6,106.3 L444.9,105.9 L445.1,105.3 L445.3,104.4 L445.6,103.4 L445.8,102.1 L446.0,100.8 L446.3,99.4 L446.5,98.0 L446.8,96.5 L447.0,95.0 L447.2,93.6 L447.5,92.1 L447.7,90.7 L447.9,89.4 L448.2,88.1 L448.4,86.9 L448.6,85.7 L448.9,84.6 L449.1,83.5 L449.4,82.5 L449.6,81.5 L449.8,80.6 L450.1,79.7 L450.3,78.9 L450.6,78.1 L450.8,77.3 L451.0,76.6 L451.3,76.0 L451.5,75.3 L451.7,74.7 L452.0,74.2 L452.2,73.6 L452.4,73.1 L452.7,72.7 L452.9,72.2 L453.2,71.8 L453.4,71.4 L453.6,71.0 L453.9,70.6 L454.1,70.3 L454.4,69.9 L454.6,69.6 L454.8,69.3 L455.1,69.0 L455.3,68.8 L455.5,68.5 L455.8,68.3 L456.0,68.0 L456.2,67.8 L456.5,67.6 L456.7,67.4 L457.0,67.2 L457.2,67.0 L457.4,66.9 L457.7,66.7 L457.9,66.5 L458.2,66.4 L458.4,66.2 L458.6,66.1 L458.9,66.0 L459.1,65.8 L459.3,65.7 L459.6,65.6 L459.8,65.5 L460.0,65.4 L460.3,65.3 L460.5,65.2 L460.8,65.1 L461.0,65.0 L461.2,64.9 L461.5,64.8 L461.7,64.8 L462.0,64.7 L462.2,64.6 L462.4,64.6 L462.7,64.5 L462.9,64.4 L463.1,64.4 L463.4,64.3 L463.6,64.2 L463.8,64.2 L464.1,64.1 L464.3,64.1 L464.6,64.0 L464.8,64.0 L465.0,64.0 L465.3,63.9 L465.5,63.9 L465.8,63.8 L466.0,63.8 L466.2,63.8 L466.5,63.7 L466.7,63.7 L466.9,63.7 L467.2,63.7 L467.4,63.6 L467.6,63.6 L467.9,63.6 L468.1,63.6 L468.4,63.5 L468.6,63.5 L468.8,63.5 L469.1,63.5 L469.3,63.5 L469.6,63.5 L469.8,63.4 L470.0,63.4 L470.3,63.4 L470.5,63.4 L470.7,63.4 L471.0,63.4 L471.2,63.4 L471.4,63.4 L471.7,63.3 L471.9,63.3 L472.2,63.3 L472.4,63.3 L472.6,63.3 L472.9,63.3 L473.1,63.3 L473.3,63.3 L473.6,63.3 L473.8,63.3 L474.1,63.3 L474.3,63.3 L474.5,63.3 L474.8,63.3 L475.0,63.3 L475.3,63.3 L475.5,63.3 L475.7,63.3 L476.0,63.3 L476.2,63.3 L476.4,63.3 L476.7,63.3 L476.9,63.3 L477.2,63.3 L477.4,63.3 L477.6,63.3 L477.9,63.3 L478.1,63.3 L478.3,63.3 L478.6,63.3 L478.8,63.3 L479.0,63.3 L479.3,63.3 L479.5,63.3 L479.8,63.3 L480.0,63.3 L480.2,63.3 L480.5,63.3 L480.7,63.4 L480.9,63.4 L481.2,63.4 L481.4,63.4 L481.7,63.4 L481.9,63.4 L482.1,63.4 L482.4,63.4 L482.6,63.4 L482.9,63.4 L483.1,63.4 L483.3,63.4 L483.6,63.5 L483.8,63.5 L484.0,63.5 L484.3,63.5 L484.5,63.5 L484.8,63.5 L485.0,63.5 L485.2,63.5 L485.5,63.6 L485.7,63.6 L485.9,63.6 L486.2,63.6 L486.4,63.7 L486.6,63.7 L486.9,63.7 L487.1,63.8 L487.4,63.8 L487.6,63.9 L487.8,63.9 L488.1,64.0 L488.3,64.1 L488.5,64.1 L488.8,64.2 L489.0,64.4 L489.3,64.5 L489.5,64.6 L489.7,64.8 L490.0,65.0 L490.2,65.2 L490.5,65.5 L490.7,65.8 L490.9,66.2 L491.2,66.5 L491.4,67.0 L491.6,67.5 L491.9,68.1 L492.1,68.7 L492.4,69.5 L492.6,70.3 L492.8,71.2 L493.1,72.3 L493.3,73.5 L493.5,74.8 L493.8,76.3 L494.0,78.0 L494.2,79.8 L494.5,81.9 L494.7,84.2 L495.0,86.8 L495.2,89.6 L495.4,92.7 L495.7,96.1 L495.9,99.9 L496.1,103.9 L496.4,108.2 L496.6,112.7 L496.9,117.0 L497.1,120.7 L497.3,123.4 L497.6,124.4 L497.8,124.2 L498.0,123.5 L498.3,122.5 L498.5,121.2 L498.8,119.6 L499.0,117.8 L499.2,115.9 L499.5,113.9 L499.7,111.8 L500.0,109.8 L500.2,107.8 L500.4,105.9 L500.7,104.0 L500.9,102.2 L501.1,100.4 L501.4,98.8 L501.6,97.2 L501.9,95.7 L502.1,94.3 L502.3,92.9 L502.6,91.6 L502.8,90.4 L503.0,89.2 L503.3,88.1 L503.5,87.1 L503.8,86.1 L504.0,85.1 L504.2,84.2 L504.5,83.4 L504.7,82.6 L504.9,81.8 L505.2,81.1 L505.4,80.4 L505.6,79.7 L505.9,79.1 L506.1,78.5 L506.4,77.9 L506.6,77.4 L506.8,76.9 L507.1,76.4 L507.3,75.9 L507.6,75.5 L507.8,75.0 L508.0,74.6 L508.3,74.2 L508.5,73.8 L508.7,73.5 L509.0,73.1 L509.2,72.8 L509.5,72.5 L509.7,72.2 L509.9,71.9 L510.2,71.6 L510.4,71.3 L510.6,71.1 L510.9,70.8 L511.1,70.6 L511.3,70.4 L511.6,70.1 L511.8,69.9 L512.1,69.7 L512.3,69.5 L512.5,69.3 L512.8,69.1 L513.0,68.9 L513.2,68.8 L513.5,68.6 L513.7,68.4 L514.0,68.3 L514.2,68.1 L514.4,68.0 L514.7,67.8 L514.9,67.7 L515.2,67.5 L515.4,67.4 L515.6,67.3 L515.9,67.2 L516.1,67.0 L516.3,66.9 L516.6,66.8 L516.8,66.7 L517.1,66.6 L517.3,66.5 L517.5,66.4 L517.8,66.3 L518.0,66.2" stroke="#ee0a12" stroke-width="1.8"/>
<path d="M423.0,59.4 L423.2,59.4 L423.5,59.4 L423.7,59.4 L423.9,59.4 L424.2,59.4 L424.4,59.4 L424.7,59.4 L424.9,59.4 L425.1,59.4 L425.4,59.4 L425.6,59.4 L425.9,59.4 L426.1,59.4 L426.3,59.4 L426.6,59.4 L426.8,59.4 L427.0,59.5 L427.3,59.5 L427.5,59.5 L427.8,59.6 L428.0,59.6 L428.2,59.7 L428.5,59.8 L428.7,59.9 L428.9,60.1 L429.2,60.2 L429.4,60.4 L429.7,60.7 L429.9,60.9 L430.1,61.2 L430.4,61.6 L430.6,62.0 L430.8,62.4 L431.1,63.0 L431.3,63.6 L431.6,64.3 L431.8,65.1 L432.0,66.1 L432.3,67.1 L432.5,68.3 L432.7,69.7 L433.0,71.2 L433.2,73.0 L433.5,74.9 L433.7,77.1 L433.9,79.5 L434.2,82.1 L434.4,85.0 L434.6,88.0 L434.9,91.3 L435.1,94.7 L435.3,98.1 L435.6,101.2 L435.8,103.8 L436.1,105.5 L436.3,106.2 L436.5,106.0 L436.8,105.6 L437.0,105.0 L437.3,104.1 L437.5,103.0 L437.7,101.8 L438.0,100.5 L438.2,99.1 L438.4,97.6 L438.7,96.2 L438.9,94.7 L439.1,93.2 L439.4,91.8 L439.6,90.4 L439.9,89.0 L440.1,87.8 L440.3,86.5 L440.6,85.3 L440.8,84.2 L441.1,83.1 L441.3,82.1 L441.5,81.1 L441.8,80.2 L442.0,79.3 L442.2,78.4 L442.5,77.7 L442.7,76.9 L442.9,76.2 L443.2,75.5 L443.4,74.9 L443.7,74.3 L443.9,73.7 L444.1,73.2 L444.4,72.7 L444.6,72.2 L444.9,71.7 L445.1,71.3 L445.3,70.9 L445.6,70.5 L445.8,70.1 L446.0,69.7 L446.3,69.4 L446.5,69.1 L446.8,68.8 L447.0,68.5 L447.2,68.2 L447.5,68.0 L447.7,67.7 L447.9,67.5 L448.2,67.3 L448.4,67.1 L448.6,66.9 L448.9,66.7 L449.1,66.5 L449.4,66.3 L449.6,66.2 L449.8,66.0 L450.1,65.8 L450.3,65.7 L450.6,65.6 L450.8,65.4 L451.0,65.3 L451.3,65.2 L451.5,65.1 L451.7,65.0 L452.0,64.9 L452.2,64.8 L452.4,64.7 L452.7,64.6 L452.9,64.5 L453.2,64.4 L453.4,64.3 L453.6,64.2 L453.9,64.2 L454.1,64.1 L454.4,64.0 L454.6,63.9 L454.8,63.9 L455.1,63.8 L455.3,63.8 L455.5,63.7 L455.8,63.7 L456.0,63.6 L456.2,63.6 L456.5,63.5 L456.7,63.5 L457.0,63.4 L457.2,63.4 L457.4,63.3 L457.7,63.3 L457.9,63.3 L458.2,63.2 L458.4,63.2 L458.6,63.2 L458.9,63.1 L459.1,63.1 L459.3,63.1 L459.6,63.1 L459.8,63.0 L460.0,63.0 L460.3,63.0 L460.5,63.0 L460.8,62.9 L461.0,62.9 L461.2,62.9 L461.5,62.9 L461.7,62.9 L462.0,62.8 L462.2,62.8 L462.4,62.8 L462.7,62.8 L462.9,62.8 L463.1,62.8 L463.4,62.8 L463.6,62.8 L463.8,62.7 L464.1,62.7 L464.3,62.7 L464.6,62.7 L464.8,62.7 L465.0,62.7 L465.3,62.7 L465.5,62.7 L465.8,62.7 L466.0,62.7 L466.2,62.7 L466.5,62.7 L466.7,62.7 L466.9,62.7 L467.2,62.7 L467.4,62.7 L467.6,62.7 L467.9,62.7 L468.1,62.7 L468.4,62.7 L468.6,62.7 L468.8,62.7 L469.1,62.7 L469.3,62.7 L469.6,62.7 L469.8,62.7 L470.0,62.7 L470.3,62.7 L470.5,62.7 L470.7,62.7 L471.0,62.7 L471.2,62.7 L471.4,62.7 L471.7,62.7 L471.9,62.7 L472.2,62.7 L472.4,62.7 L472.6,62.7 L472.9,62.7 L473.1,62.8 L473.3,62.8 L473.6,62.8 L473.8,62.8 L474.1,62.8 L474.3,62.8 L474.5,62.8 L474.8,62.8 L475.0,62.8 L475.3,62.8 L475.5,62.8 L475.7,62.8 L476.0,62.9 L476.2,62.9 L476.4,62.9 L476.7,62.9 L476.9,62.9 L477.2,62.9 L477.4,62.9 L477.6,63.0 L477.9,63.0 L478.1,63.0 L478.3,63.0 L478.6,63.1 L478.8,63.1 L479.0,63.1 L479.3,63.2 L479.5,63.2 L479.8,63.3 L480.0,63.4 L480.2,63.4 L480.5,63.5 L480.7,63.6 L480.9,63.7 L481.2,63.9 L481.4,64.0 L481.7,64.2 L481.9,64.4 L482.1,64.6 L482.4,64.9 L482.6,65.2 L482.9,65.5 L483.1,65.9 L483.3,66.4 L483.6,66.9 L483.8,67.5 L484.0,68.1 L484.3,68.9 L484.5,69.7 L484.8,70.6 L485.0,71.7 L485.2,72.9 L485.5,74.2 L485.7,75.7 L485.9,77.4 L486.2,79.2 L486.4,81.3 L486.6,83.6 L486.9,86.2 L487.1,89.0 L487.4,92.2 L487.6,95.6 L487.8,99.4 L488.1,103.5 L488.3,107.9 L488.5,112.3 L488.8,116.7 L489.0,120.5 L489.3,123.3 L489.5,124.3 L489.7,124.0 L490.0,123.4 L490.2,122.4 L490.5,121.0 L490.7,119.4 L490.9,117.6 L491.2,115.6 L491.4,113.6 L491.6,111.6 L491.9,109.6 L492.1,107.6 L492.4,105.7 L492.6,103.8 L492.8,102.0 L493.1,100.3 L493.3,98.7 L493.5,97.1 L493.8,95.6 L494.0,94.2 L494.2,92.9 L494.5,91.6 L494.7,90.4 L495.0,89.3 L495.2,88.2 L495.4,87.2 L495.7,86.3 L495.9,85.3 L496.1,84.5 L496.4,83.7 L496.6,82.9 L496.9,82.2 L497.1,81.5 L497.3,80.8 L497.6,80.2 L497.8,79.6 L498.0,79.0 L498.3,78.5 L498.5,78.0 L498.8,77.5 L499.0,77.1 L499.2,76.6 L499.5,76.1 L499.7,75.7 L500.0,75.3 L500.2,74.9 L500.4,74.5 L500.7,74.2 L500.9,73.8 L501.1,73.5 L501.4,73.2 L501.6,72.8 L501.9,72.6 L502.1,72.3 L502.3,72.0 L502.6,71.7 L502.8,71.5 L503.0,71.2 L503.3,71.0 L503.5,70.8 L503.8,70.6 L504.0,70.4 L504.2,70.2 L504.5,70.0 L504.7,69.8 L504.9,69.6 L505.2,69.4 L505.4,69.3 L505.6,69.1 L505.9,68.9 L506.1,68.8 L506.4,68.6 L506.6,68.5 L506.8,68.3 L507.1,68.2 L507.3,68.1 L507.6,67.9 L507.8,67.8 L508.0,67.7 L508.3,67.6 L508.5,67.5 L508.7,67.3 L509.0,67.2 L509.2,67.1 L509.5,67.0 L509.7,66.9 L509.9,66.8 L510.2,66.7 L510.4,66.6 L510.6,66.5 L510.9,66.5 L511.1,66.4 L511.3,66.3 L511.6,66.2 L511.8,66.1 L512.1,66.0 L512.3,66.0 L512.5,65.9 L512.8,65.8 L513.0,65.7 L513.2,65.7 L513.5,65.6 L513.7,65.5 L514.0,65.4 L514.2,65.4 L514.4,65.3 L514.7,65.2 L514.9,65.2 L515.2,65.1 L515.4,65.1 L515.6,65.0 L515.9,64.9 L516.1,64.9 L516.3,64.8 L516.6,64.8 L516.8,64.7 L517.1,64.7 L517.3,64.6 L517.5,64.6 L517.8,64.5 L518.0,64.4" stroke="#0a00e0" stroke-width="2" stroke-dasharray="7 5"/>
<path d="M423.0,75.2 L423.2,77.4 L423.5,79.9 L423.7,82.6 L423.9,85.6 L424.2,88.8 L424.4,92.2 L424.7,95.9 L424.9,99.5 L425.1,102.9 L425.4,105.8 L425.6,107.7 L425.9,108.4 L426.1,108.2 L426.3,107.8 L426.6,107.0 L426.8,106.0 L427.0,104.8 L427.3,103.4 L427.5,101.9 L427.8,100.4 L428.0,98.8 L428.2,97.2 L428.5,95.6 L428.7,94.0 L428.9,92.5 L429.2,91.0 L429.4,89.6 L429.7,88.2 L429.9,86.9 L430.1,85.6 L430.4,84.4 L430.6,83.3 L430.8,82.2 L431.1,81.2 L431.3,80.2 L431.6,79.3 L431.8,78.5 L432.0,77.6 L432.3,76.9 L432.5,76.1 L432.7,75.4 L433.0,74.8 L433.2,74.2 L433.5,73.6 L433.7,73.0 L433.9,72.5 L434.2,72.0 L434.4,71.5 L434.6,71.1 L434.9,70.7 L435.1,70.3 L435.3,69.9 L435.6,69.5 L435.8,69.2 L436.1,68.8 L436.3,68.5 L436.5,68.2 L436.8,68.0 L437.0,67.7 L437.3,67.4 L437.5,67.2 L437.7,67.0 L438.0,66.7 L438.2,66.5 L438.4,66.3 L438.7,66.1 L438.9,65.9 L439.1,65.8 L439.4,65.6 L439.6,65.4 L439.9,65.3 L440.1,65.1 L440.3,65.0 L440.6,64.9 L440.8,64.7 L441.1,64.6 L441.3,64.5 L441.5,64.4 L441.8,64.3 L442.0,64.2 L442.2,64.1 L442.5,64.0 L442.7,63.9 L442.9,63.8 L443.2,63.7 L443.4,63.6 L443.7,63.5 L443.9,63.4 L444.1,63.4 L444.4,63.3 L444.6,63.2 L444.9,63.2 L445.1,63.1 L445.3,63.0 L445.6,63.0 L445.8,62.9 L446.0,62.9 L446.3,62.8 L446.5,62.8 L446.8,62.7 L447.0,62.7 L447.2,62.7 L447.5,62.6 L447.7,62.6 L447.9,62.5 L448.2,62.5 L448.4,62.5 L448.6,62.5 L448.9,62.4 L449.1,62.4 L449.4,62.4 L449.6,62.3 L449.8,62.3 L450.1,62.3 L450.3,62.3 L450.6,62.3 L450.8,62.2 L451.0,62.2 L451.3,62.2 L451.5,62.2 L451.7,62.2 L452.0,62.2 L452.2,62.1 L452.4,62.1 L452.7,62.1 L452.9,62.1 L453.2,62.1 L453.4,62.1 L453.6,62.1 L453.9,62.1 L454.1,62.0 L454.4,62.0 L454.6,62.0 L454.8,62.0 L455.1,62.0 L455.3,62.0 L455.5,62.0 L455.8,62.0 L456.0,62.0 L456.2,62.0 L456.5,62.0 L456.7,62.0 L457.0,62.0 L457.2,62.0 L457.4,62.0 L457.7,62.0 L457.9,62.0 L458.2,62.0 L458.4,62.0 L458.6,62.0 L458.9,62.0 L459.1,62.0 L459.3,62.0 L459.6,62.0 L459.8,62.0 L460.0,62.0 L460.3,62.0 L460.5,62.0 L460.8,62.0 L461.0,62.0 L461.2,62.0 L461.5,62.0 L461.7,62.0 L462.0,62.0 L462.2,62.0 L462.4,62.0 L462.7,62.0 L462.9,62.0 L463.1,62.0 L463.4,62.0 L463.6,62.0 L463.8,62.0 L464.1,62.0 L464.3,62.0 L464.6,62.0 L464.8,62.0 L465.0,62.1 L465.3,62.1 L465.5,62.1 L465.8,62.1 L466.0,62.1 L466.2,62.1 L466.5,62.1 L466.7,62.1 L466.9,62.1 L467.2,62.1 L467.4,62.1 L467.6,62.1 L467.9,62.2 L468.1,62.2 L468.4,62.2 L468.6,62.2 L468.8,62.2 L469.1,62.2 L469.3,62.2 L469.6,62.2 L469.8,62.3 L470.0,62.3 L470.3,62.3 L470.5,62.3 L470.7,62.3 L471.0,62.3 L471.2,62.3 L471.4,62.4 L471.7,62.4 L471.9,62.4 L472.2,62.4 L472.4,62.5 L472.6,62.5 L472.9,62.5 L473.1,62.6 L473.3,62.6 L473.6,62.6 L473.8,62.7 L474.1,62.8 L474.3,62.8 L474.5,62.9 L474.8,63.0 L475.0,63.1 L475.3,63.2 L475.5,63.3 L475.7,63.5 L476.0,63.7 L476.2,63.9 L476.4,64.1 L476.7,64.4 L476.9,64.7 L477.2,65.0 L477.4,65.4 L477.6,65.9 L477.9,66.4 L478.1,67.0 L478.3,67.6 L478.6,68.4 L478.8,69.2 L479.0,70.1 L479.3,71.2 L479.5,72.4 L479.8,73.7 L480.0,75.2 L480.2,76.9 L480.5,78.8 L480.7,80.9 L480.9,83.2 L481.2,85.8 L481.4,88.7 L481.7,91.9 L481.9,95.4 L482.1,99.2 L482.4,103.4 L482.6,107.8 L482.9,112.4 L483.1,116.9 L483.3,120.9 L483.6,123.7 L483.8,124.8 L484.0,124.5 L484.3,123.9 L484.5,122.8 L484.8,121.4 L485.0,119.7 L485.2,117.8 L485.5,115.8 L485.7,113.7 L485.9,111.6 L486.2,109.6 L486.4,107.6 L486.6,105.6 L486.9,103.7 L487.1,101.9 L487.4,100.1 L487.6,98.5 L487.8,96.9 L488.1,95.4 L488.3,94.0 L488.5,92.6 L488.8,91.3 L489.0,90.1 L489.3,89.0 L489.5,87.9 L489.7,86.9 L490.0,85.9 L490.2,85.0 L490.5,84.1 L490.7,83.3 L490.9,82.5 L491.2,81.8 L491.4,81.1 L491.6,80.4 L491.9,79.8 L492.1,79.2 L492.4,78.6 L492.6,78.1 L492.8,77.6 L493.1,77.1 L493.3,76.6 L493.5,76.2 L493.8,75.8 L494.0,75.4 L494.2,75.0 L494.5,74.6 L494.7,74.3 L495.0,74.0 L495.2,73.7 L495.4,73.4 L495.7,73.1 L495.9,72.8 L496.1,72.6 L496.4,72.3 L496.6,72.1 L496.9,71.9 L497.1,71.6 L497.3,71.4 L497.6,71.2 L497.8,71.1 L498.0,70.9 L498.3,70.7 L498.5,70.5 L498.8,70.4 L499.0,70.2 L499.2,70.0 L499.5,69.9 L499.7,69.7 L500.0,69.5 L500.2,69.4 L500.4,69.2 L500.7,69.1 L500.9,68.9 L501.1,68.8 L501.4,68.6 L501.6,68.5 L501.9,68.4 L502.1,68.3 L502.3,68.1 L502.6,68.0 L502.8,67.9 L503.0,67.8 L503.3,67.7 L503.5,67.6 L503.8,67.5 L504.0,67.4 L504.2,67.3 L504.5,67.2 L504.7,67.1 L504.9,67.0 L505.2,66.9 L505.4,66.8 L505.6,66.7 L505.9,66.6 L506.1,66.6 L506.4,66.5 L506.6,66.4 L506.8,66.3 L507.1,66.2 L507.3,66.2 L507.6,66.1 L507.8,66.0 L508.0,66.0 L508.3,65.9 L508.5,65.8 L508.7,65.8 L509.0,65.7 L509.2,65.6 L509.5,65.6 L509.7,65.5 L509.9,65.4 L510.2,65.4 L510.4,65.3 L510.6,65.3 L510.9,65.2 L511.1,65.2 L511.3,65.1 L511.6,65.0 L511.8,65.0 L512.1,64.9 L512.3,64.9 L512.5,64.8 L512.8,64.8 L513.0,64.7 L513.2,64.7 L513.5,64.6 L513.7,64.6 L514.0,64.6 L514.2,64.5 L514.4,64.5 L514.7,64.4 L514.9,64.4 L515.2,64.3 L515.4,64.3 L515.6,64.2 L515.9,64.2 L516.1,64.2 L516.3,64.1 L516.6,64.1 L516.8,64.0 L517.1,64.0 L517.3,64.0 L517.5,63.9 L517.8,63.9 L518.0,63.8" stroke="#0a0a0a" stroke-width="2" stroke-dasharray="8 3 3 3"/>
</g>
<rect x="423.0" y="70.2" width="95.0" height="66.3" fill="none" stroke="#555" stroke-width="0.8"/>
<g font-family="'Liberation Serif', serif" font-size="12" fill="#333">
<text x="419.2" y="74.8" text-anchor="end">-25</text>
<text x="419.2" y="100.1" text-anchor="end">-30</text>
<text x="419.2" y="125.4" text-anchor="end">-35</text>
<text x="423.0" y="151.8" text-anchor="middle">7.5</text>
<text x="470.5" y="151.8" text-anchor="middle">8</text>
<text x="518.0" y="151.8" text-anchor="middle">8.5</text>
</g>
<rect x="280.6" y="157.6" width="153" height="73.5" fill="#ffffff" stroke="#3a3a3a" stroke-width="1.1"/>
<line x1="284.3" y1="171" x2="311.6" y2="171" stroke="#ee0a12" stroke-width="3.4"/>
<line x1="284.3" y1="195.5" x2="299.3" y2="195.5" stroke="#0a00e0" stroke-width="3.5"/>
<line x1="284.3" y1="218.5" x2="300.7" y2="218.5" stroke="#0a0a0a" stroke-width="3.8"/>
<line x1="302.8" y1="218.5" x2="309.6" y2="218.5" stroke="#0a0a0a" stroke-width="3.8"/>
<g font-family="'Liberation Serif', serif" font-size="20" fill="#111">
<text x="314.5" y="177.9">Size: 16 mm</text>
<text x="314.5" y="201.5">Size: 16.2 mm</text>
<text x="314.5" y="225">Size: 16.4 mm</text>
</g>
<text x="386.3" y="320.8" font-family="'Liberation Serif', serif" font-size="18.5" text-anchor="middle" fill="#000">(<tspan font-weight="bold">b</tspan>)</text>
</g>
</svg>
</body>
</html>
